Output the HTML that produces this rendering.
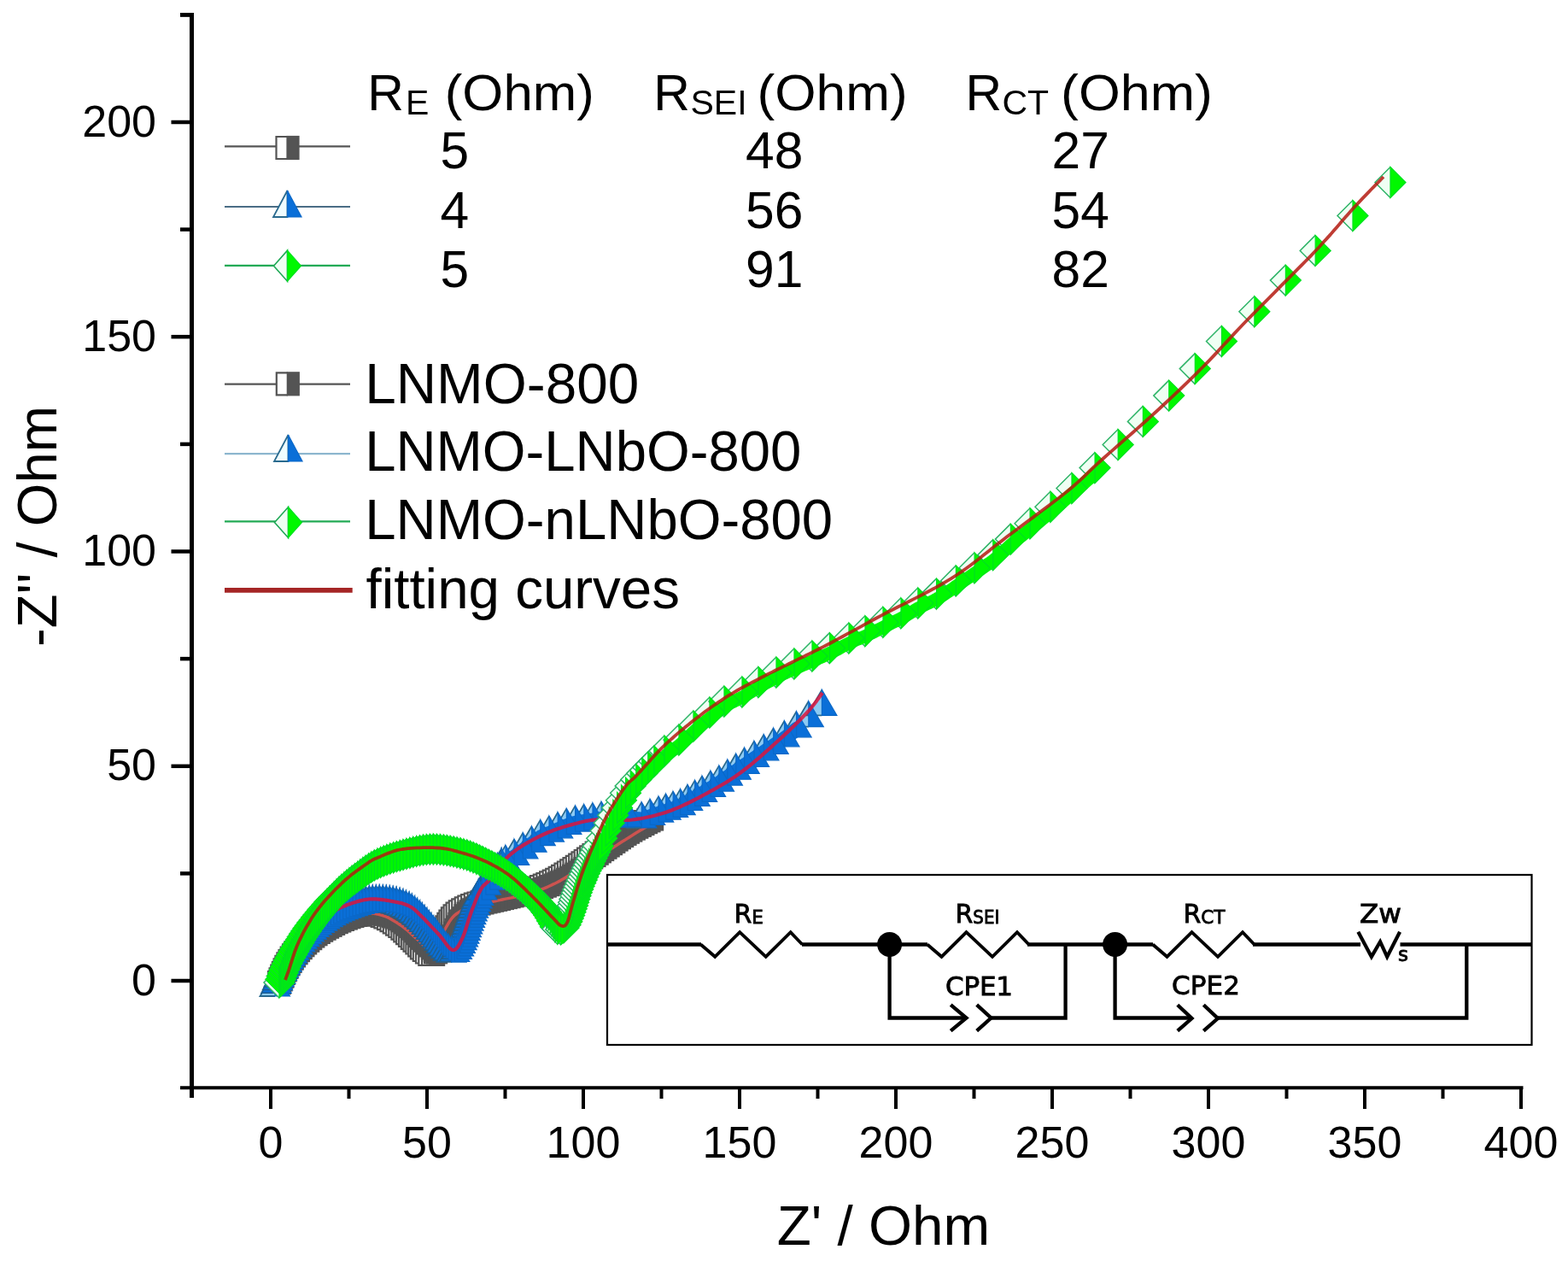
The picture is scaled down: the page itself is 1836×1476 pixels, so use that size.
<!DOCTYPE html><html><head><meta charset="utf-8"><title>Nyquist plot</title>
<style>html,body{margin:0;padding:0;background:#fff;}svg{display:block;}</style></head><body>
<svg width="1836" height="1476" viewBox="0 0 1836 1476">
<rect width="1836" height="1476" fill="#fff"/>
<defs>
<g id="sqL"><rect x="-13" y="-13" width="13" height="26" fill="#fff"/><path d="M0,-13 H-13 V13 H0" fill="none" stroke="#545454" stroke-width="2.2"/></g>
<g id="sqR"><rect x="0" y="-13" width="13" height="26" fill="#545454" stroke="#545454" stroke-width="2.2"/></g>
<g id="sq"><use href="#sqL"/><use href="#sqR"/></g>
<g id="triL"><path d="M0,-15 L0,15 L-17.5,15 Z" fill="#8ccaf4"/><path d="M0,-15 L-17.5,15 L0,15" fill="none" stroke="#2a6a8e" stroke-width="1.8"/></g>
<g id="triR"><path d="M0,-15 L17.5,15 L0,15 Z" fill="#0a6fd8" stroke="#0a68c8" stroke-width="1.2"/></g>
<g id="tri"><path d="M0,-15.5 L0,15.5 L-16.5,15.5 Z" fill="#effcff" stroke="#2a6a8e" stroke-width="1.8"/><path d="M0,-15.5 L16.5,15.5 L0,15.5 Z" fill="#0a6fd8" stroke="#0a68c8" stroke-width="1.2"/></g>
<g id="triS"><path d="M0,-15 L0,15 L-17.5,15 Z" fill="#0a6fd8" stroke="#1f5f90" stroke-width="1.5"/></g>
<g id="diaL"><path d="M0,-18 L0,18 L-18,0 Z" fill="#effff3"/><path d="M0,-18 L-18,0 L0,18" fill="none" stroke="#2fb468" stroke-width="1.5"/></g>
<g id="diaR"><path d="M0,-18 L18,0 L0,18 Z" fill="#00f800" stroke="#00e020" stroke-width="1.2"/></g>
<g id="dia"><path d="M0,-18 L0,18 L-16,0 Z" fill="#effff3" stroke="#1fa856" stroke-width="1.6"/><path d="M0,-18 L16,0 L0,18 Z" fill="#00f800" stroke="#00e020" stroke-width="1.2"/></g>
<g id="diaS"><path d="M0,-18 L0,18 L-18,0 Z" fill="#00f800" stroke="#10d838" stroke-width="1"/></g>
</defs>
<g id="data">
<g><use href="#sqL" x="327.0" y="1150.0"/><use href="#sqL" x="328.6" y="1146.4"/><use href="#sqL" x="330.3" y="1142.7"/><use href="#sqL" x="331.9" y="1139.0"/><use href="#sqL" x="333.6" y="1135.4"/><use href="#sqL" x="335.4" y="1131.9"/><use href="#sqL" x="337.4" y="1128.4"/><use href="#sqL" x="339.5" y="1125.0"/><use href="#sqL" x="341.7" y="1121.6"/><use href="#sqL" x="344.0" y="1118.4"/><use href="#sqL" x="346.5" y="1115.2"/><use href="#sqL" x="349.0" y="1112.1"/><use href="#sqL" x="351.7" y="1109.1"/><use href="#sqL" x="354.4" y="1106.2"/><use href="#sqL" x="357.2" y="1103.4"/><use href="#sqL" x="360.2" y="1100.7"/><use href="#sqL" x="363.2" y="1098.1"/><use href="#sqL" x="366.3" y="1095.5"/><use href="#sqL" x="369.5" y="1093.2"/><use href="#sqL" x="372.8" y="1090.9"/><use href="#sqL" x="376.2" y="1088.7"/><use href="#sqL" x="379.6" y="1086.7"/><use href="#sqL" x="383.1" y="1084.7"/><use href="#sqL" x="386.6" y="1082.8"/><use href="#sqL" x="390.1" y="1080.9"/><use href="#sqL" x="393.7" y="1079.1"/><use href="#sqL" x="397.3" y="1077.5"/><use href="#sqL" x="401.0" y="1075.9"/><use href="#sqL" x="404.8" y="1074.5"/><use href="#sqL" x="408.5" y="1073.2"/><use href="#sqL" x="412.4" y="1072.0"/><use href="#sqL" x="416.2" y="1070.9"/><use href="#sqL" x="420.1" y="1070.0"/><use href="#sqL" x="424.1" y="1069.4"/><use href="#sqL" x="428.0" y="1069.0"/><use href="#sqL" x="432.0" y="1069.0"/><use href="#sqL" x="436.0" y="1069.2"/><use href="#sqL" x="440.0" y="1069.8"/><use href="#sqL" x="443.9" y="1070.7"/><use href="#sqL" x="447.7" y="1071.9"/><use href="#sqL" x="451.4" y="1073.4"/><use href="#sqL" x="455.0" y="1075.2"/><use href="#sqL" x="458.5" y="1077.2"/><use href="#sqL" x="461.8" y="1079.3"/><use href="#sqL" x="465.1" y="1081.6"/><use href="#sqL" x="468.3" y="1084.0"/><use href="#sqL" x="471.4" y="1086.6"/><use href="#sqL" x="474.3" y="1089.3"/><use href="#sqL" x="477.1" y="1092.1"/><use href="#sqL" x="480.0" y="1095.0"/><use href="#sqL" x="482.8" y="1097.8"/><use href="#sqL" x="485.6" y="1100.6"/><use href="#sqL" x="488.4" y="1103.5"/><use href="#sqL" x="491.2" y="1106.4"/><use href="#sqL" x="493.9" y="1109.3"/><use href="#sqL" x="496.8" y="1112.0"/><use href="#sqL" x="500.0" y="1114.5"/><use href="#sqL" x="503.3" y="1116.8"/><use href="#sqL" x="507.1" y="1116.9"/><use href="#sqL" x="510.1" y="1114.3"/><use href="#sqL" x="512.3" y="1111.0"/><use href="#sqL" x="514.2" y="1107.5"/><use href="#sqL" x="516.0" y="1103.9"/><use href="#sqL" x="517.3" y="1100.1"/><use href="#sqL" x="518.6" y="1096.3"/><use href="#sqL" x="519.9" y="1092.6"/><use href="#sqL" x="521.5" y="1088.9"/><use href="#sqL" x="523.4" y="1085.4"/><use href="#sqL" x="525.4" y="1081.9"/><use href="#sqL" x="527.5" y="1078.5"/><use href="#sqL" x="529.9" y="1075.3"/><use href="#sqL" x="532.6" y="1072.3"/><use href="#sqL" x="535.6" y="1069.7"/><use href="#sqL" x="538.8" y="1067.4"/><use href="#sqL" x="542.2" y="1065.3"/><use href="#sqL" x="545.8" y="1063.4"/><use href="#sqL" x="549.4" y="1061.7"/><use href="#sqL" x="553.1" y="1060.1"/><use href="#sqL" x="556.8" y="1058.7"/><use href="#sqL" x="560.6" y="1057.5"/><use href="#sqL" x="564.5" y="1056.4"/><use href="#sqL" x="568.4" y="1055.4"/><use href="#sqL" x="572.3" y="1054.6"/><use href="#sqL" x="576.2" y="1053.7"/><use href="#sqL" x="580.1" y="1052.8"/><use href="#sqL" x="584.0" y="1052.0"/><use href="#sqL" x="587.9" y="1051.0"/><use href="#sqL" x="591.8" y="1050.1"/><use href="#sqL" x="595.6" y="1049.2"/><use href="#sqL" x="599.5" y="1048.3"/><use href="#sqL" x="603.4" y="1047.4"/><use href="#sqL" x="607.3" y="1046.5"/><use href="#sqL" x="611.2" y="1045.5"/><use href="#sqL" x="615.1" y="1044.5"/><use href="#sqL" x="618.9" y="1043.3"/><use href="#sqL" x="622.7" y="1042.1"/><use href="#sqL" x="626.5" y="1040.8"/><use href="#sqL" x="630.3" y="1039.5"/><use href="#sqL" x="634.0" y="1038.1"/><use href="#sqL" x="637.8" y="1036.6"/><use href="#sqL" x="641.4" y="1035.1"/><use href="#sqL" x="645.1" y="1033.4"/><use href="#sqL" x="648.7" y="1031.7"/><use href="#sqL" x="652.2" y="1029.8"/><use href="#sqL" x="655.7" y="1027.9"/><use href="#sqL" x="659.1" y="1025.8"/><use href="#sqL" x="662.5" y="1023.7"/><use href="#sqL" x="665.9" y="1021.5"/><use href="#sqL" x="669.2" y="1019.3"/><use href="#sqL" x="672.5" y="1017.1"/><use href="#sqL" x="675.8" y="1014.8"/><use href="#sqL" x="679.2" y="1012.6"/><use href="#sqL" x="682.5" y="1010.3"/><use href="#sqL" x="685.7" y="1008.0"/><use href="#sqL" x="689.0" y="1005.7"/><use href="#sqL" x="692.2" y="1003.4"/><use href="#sqL" x="695.5" y="1001.0"/><use href="#sqL" x="698.7" y="998.7"/><use href="#sqL" x="701.9" y="996.3"/><use href="#sqL" x="705.2" y="994.0"/><use href="#sqL" x="708.5" y="991.7"/><use href="#sqL" x="711.7" y="989.4"/><use href="#sqL" x="715.0" y="987.1"/><use href="#sqL" x="718.3" y="984.8"/><use href="#sqL" x="721.6" y="982.5"/><use href="#sqL" x="724.9" y="980.2"/><use href="#sqL" x="728.2" y="978.0"/><use href="#sqL" x="731.5" y="975.8"/><use href="#sqL" x="734.9" y="973.7"/><use href="#sqL" x="738.3" y="971.6"/><use href="#sqL" x="741.8" y="969.6"/><use href="#sqL" x="745.3" y="967.7"/><use href="#sqL" x="748.9" y="965.8"/><use href="#sqL" x="752.4" y="964.0"/><use href="#sqL" x="756.0" y="962.1"/><use href="#sqL" x="759.5" y="960.3"/><use href="#sqL" x="763.1" y="958.5"/><use href="#sqR" x="327.0" y="1150.0"/><use href="#sqR" x="328.6" y="1146.4"/><use href="#sqR" x="330.3" y="1142.7"/><use href="#sqR" x="331.9" y="1139.0"/><use href="#sqR" x="333.6" y="1135.4"/><use href="#sqR" x="335.4" y="1131.9"/><use href="#sqR" x="337.4" y="1128.4"/><use href="#sqR" x="339.5" y="1125.0"/><use href="#sqR" x="341.7" y="1121.6"/><use href="#sqR" x="344.0" y="1118.4"/><use href="#sqR" x="346.5" y="1115.2"/><use href="#sqR" x="349.0" y="1112.1"/><use href="#sqR" x="351.7" y="1109.1"/><use href="#sqR" x="354.4" y="1106.2"/><use href="#sqR" x="357.2" y="1103.4"/><use href="#sqR" x="360.2" y="1100.7"/><use href="#sqR" x="363.2" y="1098.1"/><use href="#sqR" x="366.3" y="1095.5"/><use href="#sqR" x="369.5" y="1093.2"/><use href="#sqR" x="372.8" y="1090.9"/><use href="#sqR" x="376.2" y="1088.7"/><use href="#sqR" x="379.6" y="1086.7"/><use href="#sqR" x="383.1" y="1084.7"/><use href="#sqR" x="386.6" y="1082.8"/><use href="#sqR" x="390.1" y="1080.9"/><use href="#sqR" x="393.7" y="1079.1"/><use href="#sqR" x="397.3" y="1077.5"/><use href="#sqR" x="401.0" y="1075.9"/><use href="#sqR" x="404.8" y="1074.5"/><use href="#sqR" x="408.5" y="1073.2"/><use href="#sqR" x="412.4" y="1072.0"/><use href="#sqR" x="416.2" y="1070.9"/><use href="#sqR" x="420.1" y="1070.0"/><use href="#sqR" x="424.1" y="1069.4"/><use href="#sqR" x="428.0" y="1069.0"/><use href="#sqR" x="432.0" y="1069.0"/><use href="#sqR" x="436.0" y="1069.2"/><use href="#sqR" x="440.0" y="1069.8"/><use href="#sqR" x="443.9" y="1070.7"/><use href="#sqR" x="447.7" y="1071.9"/><use href="#sqR" x="451.4" y="1073.4"/><use href="#sqR" x="455.0" y="1075.2"/><use href="#sqR" x="458.5" y="1077.2"/><use href="#sqR" x="461.8" y="1079.3"/><use href="#sqR" x="465.1" y="1081.6"/><use href="#sqR" x="468.3" y="1084.0"/><use href="#sqR" x="471.4" y="1086.6"/><use href="#sqR" x="474.3" y="1089.3"/><use href="#sqR" x="477.1" y="1092.1"/><use href="#sqR" x="480.0" y="1095.0"/><use href="#sqR" x="482.8" y="1097.8"/><use href="#sqR" x="485.6" y="1100.6"/><use href="#sqR" x="488.4" y="1103.5"/><use href="#sqR" x="491.2" y="1106.4"/><use href="#sqR" x="493.9" y="1109.3"/><use href="#sqR" x="496.8" y="1112.0"/><use href="#sqR" x="500.0" y="1114.5"/><use href="#sqR" x="503.3" y="1116.8"/><use href="#sqR" x="507.1" y="1116.9"/><use href="#sqR" x="510.1" y="1114.3"/><use href="#sqR" x="512.3" y="1111.0"/><use href="#sqR" x="514.2" y="1107.5"/><use href="#sqR" x="516.0" y="1103.9"/><use href="#sqR" x="517.3" y="1100.1"/><use href="#sqR" x="518.6" y="1096.3"/><use href="#sqR" x="519.9" y="1092.6"/><use href="#sqR" x="521.5" y="1088.9"/><use href="#sqR" x="523.4" y="1085.4"/><use href="#sqR" x="525.4" y="1081.9"/><use href="#sqR" x="527.5" y="1078.5"/><use href="#sqR" x="529.9" y="1075.3"/><use href="#sqR" x="532.6" y="1072.3"/><use href="#sqR" x="535.6" y="1069.7"/><use href="#sqR" x="538.8" y="1067.4"/><use href="#sqR" x="542.2" y="1065.3"/><use href="#sqR" x="545.8" y="1063.4"/><use href="#sqR" x="549.4" y="1061.7"/><use href="#sqR" x="553.1" y="1060.1"/><use href="#sqR" x="556.8" y="1058.7"/><use href="#sqR" x="560.6" y="1057.5"/><use href="#sqR" x="564.5" y="1056.4"/><use href="#sqR" x="568.4" y="1055.4"/><use href="#sqR" x="572.3" y="1054.6"/><use href="#sqR" x="576.2" y="1053.7"/><use href="#sqR" x="580.1" y="1052.8"/><use href="#sqR" x="584.0" y="1052.0"/><use href="#sqR" x="587.9" y="1051.0"/><use href="#sqR" x="591.8" y="1050.1"/><use href="#sqR" x="595.6" y="1049.2"/><use href="#sqR" x="599.5" y="1048.3"/><use href="#sqR" x="603.4" y="1047.4"/><use href="#sqR" x="607.3" y="1046.5"/><use href="#sqR" x="611.2" y="1045.5"/><use href="#sqR" x="615.1" y="1044.5"/><use href="#sqR" x="618.9" y="1043.3"/><use href="#sqR" x="622.7" y="1042.1"/><use href="#sqR" x="626.5" y="1040.8"/><use href="#sqR" x="630.3" y="1039.5"/><use href="#sqR" x="634.0" y="1038.1"/><use href="#sqR" x="637.8" y="1036.6"/><use href="#sqR" x="641.4" y="1035.1"/><use href="#sqR" x="645.1" y="1033.4"/><use href="#sqR" x="648.7" y="1031.7"/><use href="#sqR" x="652.2" y="1029.8"/><use href="#sqR" x="655.7" y="1027.9"/><use href="#sqR" x="659.1" y="1025.8"/><use href="#sqR" x="662.5" y="1023.7"/><use href="#sqR" x="665.9" y="1021.5"/><use href="#sqR" x="669.2" y="1019.3"/><use href="#sqR" x="672.5" y="1017.1"/><use href="#sqR" x="675.8" y="1014.8"/><use href="#sqR" x="679.2" y="1012.6"/><use href="#sqR" x="682.5" y="1010.3"/><use href="#sqR" x="685.7" y="1008.0"/><use href="#sqR" x="689.0" y="1005.7"/><use href="#sqR" x="692.2" y="1003.4"/><use href="#sqR" x="695.5" y="1001.0"/><use href="#sqR" x="698.7" y="998.7"/><use href="#sqR" x="701.9" y="996.3"/><use href="#sqR" x="705.2" y="994.0"/><use href="#sqR" x="708.5" y="991.7"/><use href="#sqR" x="711.7" y="989.4"/><use href="#sqR" x="715.0" y="987.1"/><use href="#sqR" x="718.3" y="984.8"/><use href="#sqR" x="721.6" y="982.5"/><use href="#sqR" x="724.9" y="980.2"/><use href="#sqR" x="728.2" y="978.0"/><use href="#sqR" x="731.5" y="975.8"/><use href="#sqR" x="734.9" y="973.7"/><use href="#sqR" x="738.3" y="971.6"/><use href="#sqR" x="741.8" y="969.6"/><use href="#sqR" x="745.3" y="967.7"/><use href="#sqR" x="748.9" y="965.8"/><use href="#sqR" x="752.4" y="964.0"/><use href="#sqR" x="756.0" y="962.1"/><use href="#sqR" x="759.5" y="960.3"/><use href="#sqR" x="763.1" y="958.5"/></g>
<path d="M334.0,1142.0 L334.4,1140.8 L334.8,1139.3 L335.3,1137.6 L335.9,1135.6 L336.5,1133.4 L337.1,1131.2 L337.8,1128.9 L338.6,1126.5 L339.4,1124.2 L340.2,1122.0 L341.1,1119.9 L342.0,1118.0 L342.9,1116.2 L343.9,1114.5 L345.0,1112.8 L346.1,1111.1 L347.2,1109.5 L348.4,1107.9 L349.6,1106.3 L350.8,1104.8 L352.1,1103.3 L353.4,1101.8 L354.7,1100.4 L356.0,1099.0 L357.4,1097.6 L358.7,1096.3 L360.1,1095.1 L361.6,1093.8 L363.1,1092.6 L364.6,1091.4 L366.1,1090.3 L367.6,1089.2 L369.2,1088.1 L370.8,1087.0 L372.4,1086.0 L374.0,1085.0 L375.7,1084.0 L377.3,1083.1 L379.1,1082.1 L380.9,1081.2 L382.6,1080.3 L384.4,1079.5 L386.2,1078.7 L388.0,1077.9 L389.8,1077.1 L391.6,1076.4 L393.3,1075.7 L395.0,1075.0 L396.7,1074.3 L398.3,1073.7 L399.9,1073.1 L401.5,1072.5 L403.1,1071.9 L404.7,1071.4 L406.3,1070.9 L407.8,1070.4 L409.4,1070.0 L410.9,1069.6 L412.5,1069.3 L414.0,1069.0 L415.5,1068.7 L417.0,1068.5 L418.5,1068.4 L420.0,1068.2 L421.5,1068.1 L422.9,1068.1 L424.4,1068.1 L425.9,1068.1 L427.4,1068.1 L428.9,1068.2 L430.4,1068.3 L432.0,1068.5 L433.6,1068.7 L435.2,1068.9 L436.9,1069.1 L438.5,1069.4 L440.2,1069.6 L441.9,1070.0 L443.6,1070.3 L445.3,1070.8 L447.0,1071.2 L448.6,1071.8 L450.3,1072.3 L452.0,1073.0 L453.7,1073.7 L455.4,1074.5 L457.1,1075.4 L458.8,1076.4 L460.5,1077.4 L462.2,1078.4 L464.0,1079.5 L465.6,1080.6 L467.3,1081.7 L468.9,1082.8 L470.5,1083.9 L472.0,1085.0 L473.5,1086.1 L474.9,1087.3 L476.4,1088.4 L477.8,1089.6 L479.2,1090.8 L480.5,1092.1 L481.8,1093.3 L483.1,1094.5 L484.4,1095.7 L485.6,1096.8 L486.8,1097.9 L488.0,1099.0 L489.2,1100.0 L490.3,1101.1 L491.4,1102.1 L492.5,1103.2 L493.5,1104.2 L494.6,1105.2 L495.6,1106.1 L496.5,1107.0 L497.4,1107.9 L498.3,1108.7 L499.2,1109.4 L500.0,1110.0 L500.8,1110.6 L501.5,1111.1 L502.1,1111.6 L502.7,1112.0 L503.3,1112.4 L503.8,1112.8 L504.3,1113.0 L504.9,1113.2 L505.4,1113.3 L505.9,1113.3 L506.4,1113.2 L507.0,1113.0 L507.6,1112.7 L508.2,1112.3 L508.7,1111.8 L509.3,1111.2 L509.9,1110.6 L510.4,1109.8 L511.0,1109.0 L511.6,1108.1 L512.2,1107.2 L512.8,1106.2 L513.4,1105.1 L514.0,1104.0 L514.6,1102.8 L515.2,1101.5 L515.8,1100.1 L516.4,1098.6 L517.1,1097.0 L517.7,1095.4 L518.3,1093.8 L519.0,1092.2 L519.7,1090.6 L520.4,1089.0 L521.2,1087.5 L522.0,1086.0 L522.8,1084.6 L523.7,1083.1 L524.5,1081.7 L525.3,1080.3 L526.2,1078.9 L527.1,1077.5 L528.1,1076.1 L529.1,1074.8 L530.2,1073.5 L531.4,1072.3 L532.6,1071.1 L534.0,1070.0 L535.5,1068.9 L537.0,1068.0 L538.6,1067.0 L540.2,1066.1 L542.0,1065.3 L543.8,1064.4 L545.6,1063.7 L547.6,1062.9 L549.6,1062.1 L551.6,1061.4 L553.8,1060.7 L556.0,1060.0 L558.3,1059.3 L560.8,1058.7 L563.3,1058.0 L565.9,1057.4 L568.6,1056.9 L571.4,1056.3 L574.2,1055.8 L577.0,1055.2 L579.8,1054.7 L582.6,1054.1 L585.3,1053.6 L588.0,1053.0 L590.7,1052.4 L593.4,1051.9 L596.0,1051.4 L598.7,1050.9 L601.4,1050.3 L604.1,1049.8 L606.8,1049.3 L609.5,1048.7 L612.1,1048.1 L614.8,1047.5 L617.4,1046.8 L620.0,1046.0 L622.6,1045.2 L625.1,1044.4 L627.6,1043.5 L630.1,1042.6 L632.6,1041.7 L635.1,1040.7 L637.6,1039.7 L640.1,1038.6 L642.5,1037.5 L645.0,1036.4 L647.5,1035.2 L650.0,1034.0 L652.5,1032.7 L655.0,1031.4 L657.5,1029.9 L660.0,1028.5 L662.5,1027.0 L665.0,1025.4 L667.5,1023.9 L670.0,1022.3 L672.5,1020.7 L675.0,1019.1 L677.5,1017.6 L680.0,1016.0 L682.5,1014.5 L685.0,1012.9 L687.5,1011.3 L690.0,1009.7 L692.5,1008.2 L695.0,1006.6 L697.5,1005.0 L700.0,1003.4 L702.5,1001.8 L705.0,1000.2 L707.5,998.6 L710.0,997.0 L712.5,995.4 L715.1,993.8 L717.6,992.2 L720.2,990.5 L722.8,988.9 L725.3,987.2 L727.9,985.6 L730.4,984.0 L732.9,982.5 L735.3,980.9 L737.7,979.4 L740.0,978.0 L742.3,976.6 L744.7,975.1 L747.2,973.6 L749.6,972.1 L752.0,970.7 L754.4,969.3 L756.6,968.0 L758.7,966.7 L760.6,965.6 L762.3,964.6 L763.8,963.7 L765.0,963.0" fill="none" stroke="#d9534f" stroke-width="3.5" stroke-linejoin="round" opacity="0.9"/>
<g><use href="#triL" x="322.0" y="1151.0"/><use href="#triS" x="323.6" y="1147.3"/><use href="#triS" x="325.1" y="1143.6"/><use href="#triS" x="326.7" y="1140.0"/><use href="#triS" x="328.4" y="1136.3"/><use href="#triS" x="330.1" y="1132.7"/><use href="#triS" x="331.9" y="1129.2"/><use href="#triS" x="333.8" y="1125.6"/><use href="#triS" x="335.7" y="1122.1"/><use href="#triS" x="337.6" y="1118.6"/><use href="#triS" x="339.7" y="1115.2"/><use href="#triS" x="341.8" y="1111.8"/><use href="#triS" x="344.0" y="1108.4"/><use href="#triS" x="346.3" y="1105.1"/><use href="#triS" x="348.6" y="1101.9"/><use href="#triS" x="351.1" y="1098.7"/><use href="#triS" x="353.6" y="1095.6"/><use href="#triS" x="356.2" y="1092.6"/><use href="#triS" x="359.0" y="1089.7"/><use href="#triS" x="361.8" y="1086.9"/><use href="#triS" x="364.7" y="1084.2"/><use href="#triS" x="367.7" y="1081.5"/><use href="#triS" x="370.8" y="1079.0"/><use href="#triS" x="374.0" y="1076.5"/><use href="#triS" x="377.2" y="1074.1"/><use href="#triS" x="380.5" y="1071.9"/><use href="#triS" x="383.8" y="1069.7"/><use href="#triS" x="387.3" y="1067.6"/><use href="#triS" x="390.7" y="1065.7"/><use href="#triS" x="394.3" y="1063.8"/><use href="#triS" x="397.9" y="1062.2"/><use href="#triS" x="401.6" y="1060.6"/><use href="#triS" x="405.4" y="1059.2"/><use href="#triS" x="409.2" y="1057.9"/><use href="#triS" x="413.0" y="1056.7"/><use href="#triS" x="416.8" y="1055.5"/><use href="#triS" x="420.6" y="1054.3"/><use href="#triS" x="424.5" y="1053.3"/><use href="#triS" x="428.4" y="1052.5"/><use href="#triS" x="432.4" y="1052.0"/><use href="#triS" x="436.3" y="1051.6"/><use href="#triS" x="440.3" y="1051.4"/><use href="#triS" x="444.3" y="1051.3"/><use href="#triS" x="448.3" y="1051.4"/><use href="#triS" x="452.3" y="1051.7"/><use href="#triS" x="456.3" y="1052.2"/><use href="#triS" x="460.2" y="1052.9"/><use href="#triS" x="464.1" y="1053.8"/><use href="#triS" x="468.0" y="1054.9"/><use href="#triS" x="471.8" y="1056.2"/><use href="#triS" x="475.4" y="1057.7"/><use href="#triS" x="479.0" y="1059.6"/><use href="#triS" x="482.3" y="1061.8"/><use href="#triS" x="485.5" y="1064.2"/><use href="#triS" x="488.5" y="1066.8"/><use href="#triS" x="491.5" y="1069.5"/><use href="#triS" x="494.3" y="1072.3"/><use href="#triS" x="497.1" y="1075.2"/><use href="#triS" x="499.8" y="1078.2"/><use href="#triS" x="502.4" y="1081.2"/><use href="#triS" x="504.9" y="1084.3"/><use href="#triS" x="507.5" y="1087.4"/><use href="#triS" x="510.0" y="1090.5"/><use href="#triS" x="512.4" y="1093.7"/><use href="#triS" x="514.7" y="1097.0"/><use href="#triS" x="517.0" y="1100.2"/><use href="#triS" x="519.5" y="1103.4"/><use href="#triS" x="522.3" y="1106.3"/><use href="#triS" x="525.2" y="1109.0"/><use href="#triS" x="528.6" y="1111.1"/><use href="#triS" x="532.3" y="1110.3"/><use href="#triS" x="535.0" y="1107.3"/><use href="#triS" x="537.1" y="1103.9"/><use href="#triS" x="538.9" y="1100.3"/><use href="#triS" x="540.6" y="1096.7"/><use href="#triS" x="542.1" y="1093.0"/><use href="#triS" x="543.4" y="1089.2"/><use href="#triS" x="544.7" y="1085.4"/><use href="#triS" x="546.0" y="1081.7"/><use href="#triS" x="547.3" y="1077.9"/><use href="#triS" x="548.6" y="1074.1"/><use href="#triS" x="550.0" y="1070.3"/><use href="#triS" x="551.3" y="1066.6"/><use href="#triS" x="552.7" y="1062.8"/><use href="#triS" x="554.1" y="1059.1"/><use href="#triS" x="555.5" y="1055.3"/><use href="#triS" x="557.0" y="1051.6"/><use href="#triS" x="558.6" y="1047.9"/><use href="#triS" x="560.3" y="1044.4"/><use href="#triS" x="564.3" y="1038.0"/><use href="#triS" x="568.9" y="1032.1"/><use href="#triS" x="573.6" y="1026.2"/><use href="#triS" x="578.0" y="1020.2"/><use href="#triS" x="582.4" y="1014.1"/><use href="#triS" x="587.1" y="1008.2"/><use href="#triL" x="592.0" y="1004.4"/><use href="#triL" x="602.2" y="997.3"/><use href="#triL" x="612.4" y="989.8"/><use href="#triL" x="622.6" y="982.2"/><use href="#triL" x="632.8" y="974.6"/><use href="#triL" x="643.0" y="970.1"/><use href="#triL" x="653.2" y="965.8"/><use href="#triL" x="663.4" y="961.4"/><use href="#triL" x="673.6" y="958.1"/><use href="#triL" x="683.8" y="956.5"/><use href="#triL" x="694.0" y="954.9"/><use href="#triL" x="704.2" y="953.4"/><use href="#triL" x="714.4" y="953.1"/><use href="#triL" x="724.6" y="952.9"/><use href="#triL" x="734.8" y="952.6"/><use href="#triL" x="751.3" y="953.9"/><use href="#triL" x="761.2" y="950.4"/><use href="#triL" x="771.2" y="947.1"/><use href="#triL" x="779.7" y="944.2"/><use href="#triL" x="788.2" y="941.4"/><use href="#triL" x="796.7" y="938.6"/><use href="#triL" x="805.2" y="933.5"/><use href="#triL" x="813.7" y="928.4"/><use href="#triL" x="822.2" y="923.3"/><use href="#triL" x="832.1" y="917.3"/><use href="#triL" x="842.0" y="911.1"/><use href="#triL" x="851.9" y="904.1"/><use href="#triL" x="861.8" y="897.2"/><use href="#triL" x="871.7" y="890.3"/><use href="#triL" x="883.1" y="882.4"/><use href="#triL" x="894.4" y="874.8"/><use href="#triL" x="905.7" y="867.3"/><use href="#triL" x="918.5" y="858.8"/><use href="#triL" x="932.6" y="847.8"/><use href="#triL" x="946.8" y="835.7"/><use href="#triL" x="962.4" y="822.4"/><path d="M593.0,1009.4 L593.8,1008.8 L594.8,1008.1 L596.1,1007.3 L597.5,1006.3 L598.9,1005.3 L600.4,1004.3 L601.9,1003.3 L603.2,1002.3 L604.5,1001.4 L605.8,1000.5 L607.0,999.5 L608.3,998.6 L609.6,997.6 L610.9,996.7 L612.1,995.7 L613.4,994.8 L614.7,993.8 L616.0,992.9 L617.2,991.9 L618.5,991.0 L619.8,990.0 L621.1,989.1 L622.3,988.1 L623.6,987.2 L624.9,986.2 L626.2,985.2 L627.4,984.2 L628.7,983.2 L630.0,982.2 L631.3,981.3 L632.5,980.4 L633.8,979.6 L635.1,978.9 L636.4,978.3 L637.6,977.7 L638.9,977.2 L640.2,976.7 L641.5,976.2 L642.7,975.7 L644.0,975.1 L645.3,974.6 L646.6,974.0 L647.8,973.5 L649.1,972.9 L650.4,972.4 L651.7,971.8 L652.9,971.3 L654.2,970.8 L655.5,970.2 L656.8,969.6 L658.0,969.1 L659.3,968.5 L660.6,967.9 L661.9,967.4 L663.1,966.9 L664.4,966.4 L665.7,965.9 L667.0,965.4 L668.2,965.0 L669.5,964.5 L670.8,964.1 L672.1,963.7 L673.3,963.4 L674.6,963.1 L675.9,962.8 L677.2,962.5 L678.4,962.3 L679.7,962.2 L681.0,962.0 L682.3,961.8 L683.5,961.7 L684.8,961.5 L686.1,961.3 L687.4,961.1 L688.6,960.9 L689.9,960.7 L691.2,960.5 L692.5,960.3 L693.7,960.1 L695.0,959.9 L696.3,959.7 L697.6,959.5 L698.8,959.3 L700.1,959.1 L701.4,958.9 L702.7,958.7 L703.9,958.5 L705.2,958.4 L706.5,958.3 L707.8,958.2 L709.0,958.2 L710.3,958.2 L711.6,958.2 L712.9,958.2 L714.1,958.2 L715.4,958.1 L716.7,958.1 L718.0,958.1 L719.2,958.0 L720.5,958.0 L721.8,958.0 L723.1,958.0 L724.3,957.9 L725.6,957.9 L726.8,957.8 L728.0,957.8 L729.1,957.7 L730.3,957.7 L731.5,957.6 L732.8,957.6 L734.2,957.6 L735.8,957.6 L737.6,957.7 L739.6,957.9 L741.8,958.2 L744.1,958.4 L746.3,958.7 L748.5,958.8 L750.5,958.9 L752.3,958.9 L753.9,958.6 L755.3,958.3 L756.5,957.9 L757.7,957.4 L758.8,956.9 L759.9,956.3 L761.1,955.8 L762.2,955.4 L763.5,954.9 L764.8,954.5 L766.0,954.1 L767.3,953.7 L768.5,953.3 L769.8,952.8 L771.0,952.4 L772.2,952.1 L773.3,951.7 L774.4,951.3 L775.5,951.0 L776.5,950.6 L777.5,950.3 L778.6,949.9 L779.6,949.6 L780.7,949.2 L781.7,948.9 L782.8,948.5 L783.8,948.2 L784.9,947.8 L786.0,947.5 L787.0,947.1 L788.1,946.7 L789.2,946.4 L790.2,946.1 L791.3,945.7 L792.3,945.4 L793.4,945.1 L794.5,944.8 L795.5,944.4 L796.6,944.0 L797.7,943.6 L798.7,943.0 L799.8,942.4 L800.8,941.8 L801.9,941.2 L803.0,940.5 L804.0,939.8 L805.1,939.1 L806.2,938.5 L807.2,937.8 L808.3,937.2 L809.3,936.5 L810.4,935.9 L811.5,935.3 L812.5,934.6 L813.6,934.0 L814.7,933.4 L815.7,932.7 L816.7,932.1 L817.8,931.5 L818.8,930.9 L819.9,930.2 L820.9,929.6 L822.0,928.9 L823.2,928.3 L824.3,927.6 L825.5,926.8 L826.8,926.1 L828.0,925.4 L829.3,924.6 L830.6,923.8 L831.8,923.1 L833.1,922.3 L834.3,921.6 L835.5,920.8 L836.8,920.0 L838.0,919.3 L839.3,918.5 L840.5,917.7 L841.7,916.9 L843.0,916.1 L844.2,915.2 L845.5,914.4 L846.7,913.5 L847.9,912.7 L849.2,911.8 L850.4,910.9 L851.7,910.0 L852.9,909.1 L854.1,908.3 L855.4,907.4 L856.6,906.5 L857.9,905.7 L859.1,904.8 L860.3,903.9 L861.6,903.1 L862.8,902.2 L864.0,901.3 L865.3,900.5 L866.5,899.6 L867.7,898.8 L868.9,897.9 L870.1,897.1 L871.4,896.2 L872.7,895.3 L874.1,894.3 L875.5,893.3 L876.9,892.4 L878.3,891.4 L879.7,890.3 L881.2,889.3 L882.6,888.4 L884.1,887.4 L885.5,886.4 L886.9,885.5 L888.3,884.5 L889.7,883.6 L891.1,882.6 L892.6,881.7 L894.0,880.8 L895.4,879.8 L896.8,878.9 L898.2,878.0 L899.6,877.0 L901.0,876.1 L902.4,875.2 L903.8,874.2 L905.2,873.3 L906.7,872.3 L908.2,871.3 L909.8,870.3 L911.3,869.3 L912.9,868.2 L914.5,867.2 L916.2,866.1 L917.8,865.0 L919.5,863.8 L921.3,862.4 L923.2,860.9 L925.3,859.3 L927.3,857.7 L929.3,856.2 L931.1,854.8 L932.5,853.6 L933.6,852.8" fill="none" stroke="#0a6fd8" stroke-width="17.0" stroke-linejoin="round" stroke-linecap="round"/><use href="#triR" x="322.0" y="1151.0"/><use href="#triR" x="323.6" y="1147.3"/><use href="#triR" x="325.1" y="1143.6"/><use href="#triR" x="326.7" y="1140.0"/><use href="#triR" x="328.4" y="1136.3"/><use href="#triR" x="330.1" y="1132.7"/><use href="#triR" x="331.9" y="1129.2"/><use href="#triR" x="333.8" y="1125.6"/><use href="#triR" x="335.7" y="1122.1"/><use href="#triR" x="337.6" y="1118.6"/><use href="#triR" x="339.7" y="1115.2"/><use href="#triR" x="341.8" y="1111.8"/><use href="#triR" x="344.0" y="1108.4"/><use href="#triR" x="346.3" y="1105.1"/><use href="#triR" x="348.6" y="1101.9"/><use href="#triR" x="351.1" y="1098.7"/><use href="#triR" x="353.6" y="1095.6"/><use href="#triR" x="356.2" y="1092.6"/><use href="#triR" x="359.0" y="1089.7"/><use href="#triR" x="361.8" y="1086.9"/><use href="#triR" x="364.7" y="1084.2"/><use href="#triR" x="367.7" y="1081.5"/><use href="#triR" x="370.8" y="1079.0"/><use href="#triR" x="374.0" y="1076.5"/><use href="#triR" x="377.2" y="1074.1"/><use href="#triR" x="380.5" y="1071.9"/><use href="#triR" x="383.8" y="1069.7"/><use href="#triR" x="387.3" y="1067.6"/><use href="#triR" x="390.7" y="1065.7"/><use href="#triR" x="394.3" y="1063.8"/><use href="#triR" x="397.9" y="1062.2"/><use href="#triR" x="401.6" y="1060.6"/><use href="#triR" x="405.4" y="1059.2"/><use href="#triR" x="409.2" y="1057.9"/><use href="#triR" x="413.0" y="1056.7"/><use href="#triR" x="416.8" y="1055.5"/><use href="#triR" x="420.6" y="1054.3"/><use href="#triR" x="424.5" y="1053.3"/><use href="#triR" x="428.4" y="1052.5"/><use href="#triR" x="432.4" y="1052.0"/><use href="#triR" x="436.3" y="1051.6"/><use href="#triR" x="440.3" y="1051.4"/><use href="#triR" x="444.3" y="1051.3"/><use href="#triR" x="448.3" y="1051.4"/><use href="#triR" x="452.3" y="1051.7"/><use href="#triR" x="456.3" y="1052.2"/><use href="#triR" x="460.2" y="1052.9"/><use href="#triR" x="464.1" y="1053.8"/><use href="#triR" x="468.0" y="1054.9"/><use href="#triR" x="471.8" y="1056.2"/><use href="#triR" x="475.4" y="1057.7"/><use href="#triR" x="479.0" y="1059.6"/><use href="#triR" x="482.3" y="1061.8"/><use href="#triR" x="485.5" y="1064.2"/><use href="#triR" x="488.5" y="1066.8"/><use href="#triR" x="491.5" y="1069.5"/><use href="#triR" x="494.3" y="1072.3"/><use href="#triR" x="497.1" y="1075.2"/><use href="#triR" x="499.8" y="1078.2"/><use href="#triR" x="502.4" y="1081.2"/><use href="#triR" x="504.9" y="1084.3"/><use href="#triR" x="507.5" y="1087.4"/><use href="#triR" x="510.0" y="1090.5"/><use href="#triR" x="512.4" y="1093.7"/><use href="#triR" x="514.7" y="1097.0"/><use href="#triR" x="517.0" y="1100.2"/><use href="#triR" x="519.5" y="1103.4"/><use href="#triR" x="522.3" y="1106.3"/><use href="#triR" x="525.2" y="1109.0"/><use href="#triR" x="528.6" y="1111.1"/><use href="#triR" x="532.3" y="1110.3"/><use href="#triR" x="535.0" y="1107.3"/><use href="#triR" x="537.1" y="1103.9"/><use href="#triR" x="538.9" y="1100.3"/><use href="#triR" x="540.6" y="1096.7"/><use href="#triR" x="542.1" y="1093.0"/><use href="#triR" x="543.4" y="1089.2"/><use href="#triR" x="544.7" y="1085.4"/><use href="#triR" x="546.0" y="1081.7"/><use href="#triR" x="547.3" y="1077.9"/><use href="#triR" x="548.6" y="1074.1"/><use href="#triR" x="550.0" y="1070.3"/><use href="#triR" x="551.3" y="1066.6"/><use href="#triR" x="552.7" y="1062.8"/><use href="#triR" x="554.1" y="1059.1"/><use href="#triR" x="555.5" y="1055.3"/><use href="#triR" x="557.0" y="1051.6"/><use href="#triR" x="558.6" y="1047.9"/><use href="#triR" x="560.3" y="1044.4"/><use href="#triR" x="564.3" y="1038.0"/><use href="#triR" x="568.9" y="1032.1"/><use href="#triR" x="573.6" y="1026.2"/><use href="#triR" x="578.0" y="1020.2"/><use href="#triR" x="582.4" y="1014.1"/><use href="#triR" x="587.1" y="1008.2"/><use href="#triR" x="592.0" y="1004.4"/><use href="#triR" x="602.2" y="997.3"/><use href="#triR" x="612.4" y="989.8"/><use href="#triR" x="622.6" y="982.2"/><use href="#triR" x="632.8" y="974.6"/><use href="#triR" x="643.0" y="970.1"/><use href="#triR" x="653.2" y="965.8"/><use href="#triR" x="663.4" y="961.4"/><use href="#triR" x="673.6" y="958.1"/><use href="#triR" x="683.8" y="956.5"/><use href="#triR" x="694.0" y="954.9"/><use href="#triR" x="704.2" y="953.4"/><use href="#triR" x="714.4" y="953.1"/><use href="#triR" x="724.6" y="952.9"/><use href="#triR" x="734.8" y="952.6"/><use href="#triR" x="751.3" y="953.9"/><use href="#triR" x="761.2" y="950.4"/><use href="#triR" x="771.2" y="947.1"/><use href="#triR" x="779.7" y="944.2"/><use href="#triR" x="788.2" y="941.4"/><use href="#triR" x="796.7" y="938.6"/><use href="#triR" x="805.2" y="933.5"/><use href="#triR" x="813.7" y="928.4"/><use href="#triR" x="822.2" y="923.3"/><use href="#triR" x="832.1" y="917.3"/><use href="#triR" x="842.0" y="911.1"/><use href="#triR" x="851.9" y="904.1"/><use href="#triR" x="861.8" y="897.2"/><use href="#triR" x="871.7" y="890.3"/><use href="#triR" x="883.1" y="882.4"/><use href="#triR" x="894.4" y="874.8"/><use href="#triR" x="905.7" y="867.3"/><use href="#triR" x="918.5" y="858.8"/><use href="#triR" x="932.6" y="847.8"/><use href="#triR" x="946.8" y="835.7"/><use href="#triR" x="962.4" y="822.4"/></g>
<path d="M331.0,1145.0 L331.3,1144.1 L331.7,1143.1 L332.1,1141.8 L332.6,1140.4 L333.2,1138.9 L333.8,1137.3 L334.4,1135.6 L335.0,1133.9 L335.7,1132.1 L336.5,1130.4 L337.2,1128.7 L338.0,1127.0 L338.8,1125.3 L339.7,1123.7 L340.6,1121.9 L341.5,1120.1 L342.4,1118.4 L343.4,1116.6 L344.5,1114.8 L345.5,1113.0 L346.6,1111.2 L347.7,1109.4 L348.8,1107.7 L350.0,1106.0 L351.2,1104.3 L352.4,1102.7 L353.7,1101.0 L355.0,1099.4 L356.3,1097.7 L357.6,1096.1 L359.0,1094.5 L360.4,1093.0 L361.8,1091.4 L363.2,1089.9 L364.6,1088.4 L366.0,1087.0 L367.4,1085.6 L368.9,1084.2 L370.4,1082.9 L371.9,1081.6 L373.4,1080.3 L374.9,1079.0 L376.4,1077.8 L377.9,1076.6 L379.5,1075.4 L381.0,1074.2 L382.5,1073.1 L384.0,1072.0 L385.5,1070.9 L386.9,1069.9 L388.2,1068.9 L389.6,1067.9 L390.9,1067.0 L392.2,1066.1 L393.6,1065.2 L395.1,1064.3 L396.7,1063.5 L398.3,1062.6 L400.1,1061.8 L402.0,1061.0 L404.1,1060.2 L406.3,1059.3 L408.7,1058.4 L411.1,1057.6 L413.6,1056.7 L416.2,1055.9 L418.9,1055.1 L421.6,1054.4 L424.2,1053.8 L426.9,1053.2 L429.5,1052.8 L432.0,1052.5 L434.5,1052.3 L437.1,1052.3 L439.8,1052.4 L442.4,1052.6 L445.1,1052.8 L447.8,1053.1 L450.4,1053.5 L452.9,1053.9 L455.3,1054.3 L457.7,1054.7 L459.9,1055.1 L462.0,1055.5 L463.9,1055.9 L465.8,1056.2 L467.5,1056.6 L469.1,1056.9 L470.6,1057.3 L472.1,1057.8 L473.5,1058.2 L474.8,1058.7 L476.1,1059.2 L477.4,1059.7 L478.7,1060.3 L480.0,1061.0 L481.2,1061.7 L482.4,1062.4 L483.4,1063.1 L484.4,1063.9 L485.4,1064.6 L486.3,1065.5 L487.3,1066.4 L488.3,1067.3 L489.3,1068.3 L490.4,1069.5 L491.7,1070.7 L493.0,1072.0 L494.5,1073.5 L496.1,1075.1 L497.8,1076.8 L499.6,1078.7 L501.4,1080.6 L503.3,1082.6 L505.2,1084.6 L507.1,1086.6 L508.9,1088.5 L510.7,1090.4 L512.4,1092.3 L514.0,1094.0 L515.5,1095.7 L517.0,1097.6 L518.5,1099.5 L519.9,1101.4 L521.3,1103.4 L522.6,1105.2 L523.9,1106.9 L525.2,1108.4 L526.5,1109.8 L527.7,1110.8 L528.9,1111.6 L530.0,1112.0 L531.1,1112.1 L532.1,1111.8 L533.1,1111.4 L534.0,1110.7 L534.9,1109.7 L535.8,1108.6 L536.7,1107.3 L537.5,1105.9 L538.4,1104.3 L539.2,1102.6 L540.1,1100.8 L541.0,1099.0 L541.9,1097.0 L542.8,1094.7 L543.8,1092.2 L544.7,1089.5 L545.6,1086.7 L546.5,1083.8 L547.4,1080.9 L548.3,1077.9 L549.2,1075.0 L550.2,1072.2 L551.1,1069.5 L552.0,1067.0 L552.9,1064.6 L553.8,1062.2 L554.8,1059.8 L555.7,1057.4 L556.6,1055.0 L557.5,1052.8 L558.4,1050.5 L559.3,1048.4 L560.2,1046.4 L561.2,1044.5 L562.1,1042.7 L563.0,1041.0 L563.9,1039.6 L564.7,1038.4 L565.4,1037.4 L566.1,1036.6 L566.9,1035.9 L567.6,1035.2 L568.4,1034.6 L569.3,1033.8 L570.3,1032.9 L571.4,1031.9 L572.6,1030.6 L574.0,1029.0 L575.5,1027.1 L577.2,1025.0 L578.9,1022.6 L580.8,1020.1 L582.7,1017.4 L584.8,1014.7 L586.9,1011.9 L589.1,1009.1 L591.4,1006.4 L593.9,1003.8 L596.4,1001.3 L599.0,999.0 L601.8,996.8 L604.7,994.6 L607.7,992.5 L610.9,990.4 L614.2,988.4 L617.6,986.4 L621.0,984.5 L624.4,982.7 L627.9,980.9 L631.3,979.2 L634.7,977.5 L638.0,976.0 L641.3,974.5 L644.8,973.2 L648.3,971.8 L651.8,970.6 L655.3,969.4 L658.8,968.3 L662.3,967.3 L665.7,966.3 L669.0,965.4 L672.1,964.5 L675.2,963.7 L678.0,963.0 L680.6,962.3 L683.0,961.8 L685.2,961.3 L687.3,960.8 L689.3,960.5 L691.2,960.2 L693.2,959.9 L695.1,959.7 L697.1,959.5 L699.2,959.3 L701.5,959.1 L704.0,959.0 L706.6,958.9 L709.4,958.9 L712.2,959.0 L715.0,959.2 L718.0,959.4 L721.0,959.6 L724.1,959.8 L727.2,959.9 L730.3,960.0 L733.5,959.9 L736.8,959.8 L740.0,959.5 L743.3,959.1 L746.6,958.6 L750.1,958.1 L753.5,957.5 L757.0,956.8 L760.6,956.0 L764.1,955.2 L767.7,954.3 L771.3,953.3 L774.9,952.3 L778.4,951.2 L782.0,950.0 L785.6,948.7 L789.1,947.3 L792.7,945.9 L796.3,944.3 L799.9,942.7 L803.5,941.0 L807.1,939.3 L810.7,937.5 L814.3,935.6 L817.9,933.8 L821.4,931.9 L825.0,930.0 L828.5,928.1 L832.0,926.2 L835.5,924.3 L839.0,922.3 L842.5,920.3 L846.0,918.3 L849.5,916.2 L853.0,914.0 L856.5,911.8 L860.0,909.5 L863.5,907.0 L867.0,904.5 L870.6,901.8 L874.2,899.0 L877.9,896.1 L881.6,893.1 L885.3,889.9 L888.9,886.8 L892.6,883.6 L896.2,880.4 L899.8,877.2 L903.3,874.1 L906.7,871.0 L910.0,868.0 L913.3,865.0 L916.5,862.1 L919.7,859.1 L922.9,856.1 L926.0,853.1 L929.1,850.2 L932.0,847.3 L934.9,844.4 L937.6,841.7 L940.2,839.0 L942.7,836.4 L945.0,834.0 L947.2,831.6 L949.2,829.3 L951.1,826.9 L952.9,824.7 L954.6,822.5 L956.2,820.4 L957.6,818.4 L959.0,816.6 L960.2,814.9 L961.2,813.4 L962.2,812.1 L963.0,811.0" fill="none" stroke="#dc143c" stroke-width="4.2" stroke-linejoin="round" opacity="0.85"/>
<g><use href="#diaL" x="327.0" y="1150.0"/><use href="#diaS" x="328.4" y="1146.3"/><use href="#diaS" x="329.8" y="1142.5"/><use href="#diaS" x="331.3" y="1138.8"/><use href="#diaS" x="332.8" y="1135.1"/><use href="#diaS" x="334.4" y="1131.4"/><use href="#diaS" x="336.1" y="1127.8"/><use href="#diaS" x="337.9" y="1124.2"/><use href="#diaS" x="339.8" y="1120.7"/><use href="#diaS" x="341.8" y="1117.2"/><use href="#diaS" x="343.8" y="1113.8"/><use href="#diaS" x="345.8" y="1110.3"/><use href="#diaS" x="347.8" y="1106.9"/><use href="#diaS" x="349.9" y="1103.4"/><use href="#diaS" x="351.9" y="1100.0"/><use href="#diaS" x="354.0" y="1096.6"/><use href="#diaS" x="356.2" y="1093.2"/><use href="#diaS" x="358.4" y="1089.9"/><use href="#diaS" x="360.7" y="1086.6"/><use href="#diaS" x="363.0" y="1083.4"/><use href="#diaS" x="365.4" y="1080.1"/><use href="#diaS" x="367.8" y="1077.0"/><use href="#diaS" x="370.3" y="1073.8"/><use href="#diaS" x="372.8" y="1070.7"/><use href="#diaS" x="375.3" y="1067.6"/><use href="#diaS" x="377.9" y="1064.5"/><use href="#diaS" x="380.5" y="1061.5"/><use href="#diaS" x="383.1" y="1058.5"/><use href="#diaS" x="385.8" y="1055.5"/><use href="#diaS" x="388.5" y="1052.6"/><use href="#diaS" x="391.3" y="1049.7"/><use href="#diaS" x="394.1" y="1046.9"/><use href="#diaS" x="397.0" y="1044.1"/><use href="#diaS" x="400.0" y="1041.4"/><use href="#diaS" x="403.0" y="1038.8"/><use href="#diaS" x="406.0" y="1036.2"/><use href="#diaS" x="409.1" y="1033.6"/><use href="#diaS" x="412.2" y="1031.1"/><use href="#diaS" x="415.4" y="1028.7"/><use href="#diaS" x="418.6" y="1026.3"/><use href="#diaS" x="421.8" y="1023.9"/><use href="#diaS" x="425.0" y="1021.5"/><use href="#diaS" x="428.2" y="1019.2"/><use href="#diaS" x="431.6" y="1016.9"/><use href="#diaS" x="434.9" y="1014.8"/><use href="#diaS" x="438.4" y="1012.8"/><use href="#diaS" x="442.0" y="1011.0"/><use href="#diaS" x="445.6" y="1009.3"/><use href="#diaS" x="449.3" y="1007.8"/><use href="#diaS" x="453.0" y="1006.4"/><use href="#diaS" x="456.8" y="1005.0"/><use href="#diaS" x="460.6" y="1003.8"/><use href="#diaS" x="464.4" y="1002.6"/><use href="#diaS" x="468.3" y="1001.5"/><use href="#diaS" x="472.1" y="1000.4"/><use href="#diaS" x="476.0" y="999.3"/><use href="#diaS" x="479.9" y="998.3"/><use href="#diaS" x="483.7" y="997.3"/><use href="#diaS" x="487.6" y="996.4"/><use href="#diaS" x="491.5" y="995.6"/><use href="#diaS" x="495.5" y="994.9"/><use href="#diaS" x="499.4" y="994.4"/><use href="#diaS" x="503.4" y="994.1"/><use href="#diaS" x="507.4" y="994.0"/><use href="#diaS" x="511.4" y="994.1"/><use href="#diaS" x="515.4" y="994.4"/><use href="#diaS" x="519.4" y="994.9"/><use href="#diaS" x="523.3" y="995.4"/><use href="#diaS" x="527.3" y="996.1"/><use href="#diaS" x="531.2" y="996.9"/><use href="#diaS" x="535.1" y="997.8"/><use href="#diaS" x="539.0" y="998.7"/><use href="#diaS" x="542.9" y="999.8"/><use href="#diaS" x="546.7" y="1000.9"/><use href="#diaS" x="550.5" y="1002.2"/><use href="#diaS" x="554.2" y="1003.7"/><use href="#diaS" x="557.9" y="1005.2"/><use href="#diaS" x="561.5" y="1006.9"/><use href="#diaS" x="565.1" y="1008.6"/><use href="#diaS" x="568.7" y="1010.4"/><use href="#diaS" x="572.3" y="1012.2"/><use href="#diaS" x="575.9" y="1014.0"/><use href="#diaS" x="579.4" y="1015.9"/><use href="#diaS" x="582.9" y="1017.9"/><use href="#diaS" x="586.3" y="1019.9"/><use href="#diaS" x="589.7" y="1022.0"/><use href="#diaS" x="593.0" y="1024.2"/><use href="#diaS" x="596.3" y="1026.5"/><use href="#diaS" x="599.5" y="1028.9"/><use href="#diaS" x="602.7" y="1031.3"/><use href="#diaS" x="605.8" y="1033.9"/><use href="#diaS" x="608.9" y="1036.4"/><use href="#diaS" x="611.9" y="1039.0"/><use href="#diaS" x="614.9" y="1041.7"/><use href="#diaS" x="617.9" y="1044.4"/><use href="#diaS" x="620.8" y="1047.1"/><use href="#diaS" x="623.7" y="1049.8"/><use href="#diaS" x="626.6" y="1052.6"/><use href="#diaS" x="629.4" y="1055.4"/><use href="#diaS" x="632.1" y="1058.4"/><use href="#diaS" x="634.8" y="1061.4"/><use href="#diaS" x="637.3" y="1064.5"/><use href="#diaS" x="639.7" y="1067.7"/><use href="#diaS" x="642.1" y="1070.9"/><use href="#diaS" x="644.2" y="1074.3"/><use href="#diaS" x="646.1" y="1077.8"/><use href="#diaS" x="648.1" y="1081.2"/><use href="#diaS" x="650.0" y="1084.8"/><use href="#diaL" x="652.9" y="1087.3"/><use href="#diaL" x="656.8" y="1087.9"/><use href="#diaL" x="660.1" y="1085.9"/><use href="#diaL" x="662.2" y="1082.5"/><use href="#diaL" x="663.9" y="1078.8"/><use href="#diaL" x="665.3" y="1075.1"/><use href="#diaL" x="666.7" y="1071.4"/><use href="#diaL" x="668.1" y="1067.6"/><use href="#diaL" x="669.4" y="1063.8"/><use href="#diaL" x="670.6" y="1060.0"/><use href="#diaL" x="671.7" y="1056.2"/><use href="#diaL" x="672.9" y="1052.4"/><use href="#diaL" x="674.1" y="1048.5"/><use href="#diaL" x="675.4" y="1044.7"/><use href="#diaL" x="676.8" y="1041.0"/><use href="#diaL" x="678.2" y="1037.3"/><use href="#diaL" x="679.8" y="1033.6"/><use href="#diaL" x="681.3" y="1029.9"/><use href="#diaL" x="682.9" y="1026.2"/><use href="#diaL" x="684.5" y="1022.6"/><use href="#diaL" x="686.2" y="1018.9"/><use href="#diaL" x="687.9" y="1015.3"/><use href="#diaL" x="689.6" y="1011.7"/><use href="#diaL" x="691.3" y="1008.1"/><use href="#diaL" x="693.1" y="1004.5"/><use href="#diaL" x="694.9" y="1000.9"/><use href="#diaL" x="696.7" y="997.4"/><use href="#diaL" x="698.6" y="993.8"/><use href="#diaL" x="700.4" y="990.3"/><use href="#diaL" x="704.8" y="981.3"/><use href="#diaL" x="709.1" y="972.2"/><use href="#diaL" x="713.3" y="963.2"/><use href="#diaL" x="717.9" y="954.3"/><use href="#diaL" x="722.6" y="945.5"/><use href="#diaL" x="727.5" y="936.8"/><use href="#diaL" x="732.6" y="928.2"/><use href="#diaL" x="738.2" y="919.9"/><use href="#diaL" x="744.8" y="912.4"/><use href="#diaL" x="751.8" y="905.2"/><use href="#diaL" x="758.8" y="898.1"/><use href="#diaL" x="765.9" y="891.0"/><use href="#diaL" x="778.0" y="879.0"/><use href="#diaL" x="795.0" y="866.0"/><use href="#diaL" x="812.0" y="850.0"/><use href="#diaL" x="831.0" y="834.0"/><use href="#diaL" x="848.0" y="821.0"/><use href="#diaL" x="869.0" y="810.0"/><use href="#diaL" x="888.0" y="798.5"/><use href="#diaL" x="909.0" y="787.0"/><use href="#diaL" x="930.0" y="777.0"/><use href="#diaL" x="951.0" y="768.0"/><use href="#diaL" x="971.5" y="758.6"/><use href="#diaL" x="994.0" y="747.0"/><use href="#diaL" x="1013.0" y="738.7"/><use href="#diaL" x="1034.0" y="728.3"/><use href="#diaL" x="1055.0" y="717.8"/><use href="#diaL" x="1074.9" y="706.0"/><use href="#diaL" x="1096.6" y="695.1"/><use href="#diaL" x="1119.4" y="679.9"/><use href="#diaL" x="1141.1" y="664.8"/><use href="#diaL" x="1162.8" y="649.6"/><use href="#diaL" x="1183.4" y="631.1"/><use href="#diaL" x="1206.1" y="612.7"/><use href="#diaL" x="1230.0" y="593.2"/><use href="#diaL" x="1255.0" y="571.5"/><use href="#diaL" x="1282.1" y="547.6"/><use href="#diaL" x="1309.2" y="520.5"/><use href="#diaL" x="1338.4" y="493.4"/><use href="#diaL" x="1368.8" y="463.1"/><use href="#diaL" x="1399.3" y="431.6"/><use href="#diaL" x="1430.5" y="399.5"/><use href="#diaL" x="1468.9" y="364.7"/><use href="#diaL" x="1505.4" y="328.1"/><use href="#diaL" x="1540.2" y="293.4"/><use href="#diaL" x="1584.0" y="252.5"/><use href="#diaL" x="1628.0" y="213.5"/><path d="M780.0,884.0 L781.3,883.0 L783.1,881.7 L785.1,880.2 L787.4,878.5 L789.9,876.7 L792.4,874.8 L794.8,872.9 L797.0,871.0 L799.1,869.1 L801.2,867.2 L803.3,865.2 L805.4,863.2 L807.5,861.1 L809.6,859.1 L811.8,857.0 L814.0,855.0 L816.3,853.0 L818.7,850.9 L821.1,848.9 L823.5,846.8 L825.9,844.8 L828.3,842.8 L830.7,840.9 L833.0,839.0 L835.2,837.2 L837.3,835.5 L839.3,833.8 L841.4,832.2 L843.4,830.6 L845.5,829.0 L847.7,827.5 L850.0,826.0 L852.4,824.5 L855.0,823.1 L857.7,821.8 L860.4,820.4 L863.1,819.1 L865.8,817.7 L868.4,816.4 L871.0,815.0 L873.5,813.6 L875.8,812.2 L878.2,810.7 L880.5,809.3 L882.8,807.8 L885.2,806.4 L887.5,804.9 L890.0,803.5 L892.5,802.1 L895.1,800.6 L897.7,799.1 L900.4,797.7 L903.0,796.2 L905.7,794.8 L908.4,793.4 L911.0,792.0 L913.6,790.7 L916.2,789.4 L918.9,788.1 L921.5,786.8 L924.1,785.6 L926.8,784.4 L929.4,783.2 L932.0,782.0 L934.6,780.8 L937.3,779.7 L939.9,778.6 L942.5,777.5 L945.2,776.4 L947.8,775.3 L950.4,774.1 L953.0,773.0 L955.6,771.9 L958.1,770.7 L960.6,769.6 L963.2,768.5 L965.7,767.3 L968.2,766.1 L970.8,764.9 L973.5,763.6 L976.2,762.2 L979.1,760.8 L981.9,759.3 L984.8,757.7 L987.7,756.2 L990.6,754.7 L993.3,753.3 L996.0,752.0 L998.5,750.8 L1000.9,749.7 L1003.3,748.7 L1005.6,747.8 L1007.9,746.8 L1010.2,745.8 L1012.6,744.8 L1015.0,743.7 L1017.5,742.5 L1020.1,741.3 L1022.7,740.0 L1025.4,738.6 L1028.0,737.3 L1030.7,736.0 L1033.4,734.6 L1036.0,733.3 L1038.6,732.0 L1041.3,730.7 L1043.9,729.4 L1046.6,728.1 L1049.2,726.8 L1051.8,725.5 L1054.4,724.2 L1057.0,722.8 L1059.5,721.4 L1062.0,719.9 L1064.5,718.4 L1066.9,716.9 L1069.4,715.4 L1071.8,713.9 L1074.3,712.4 L1076.9,711.0 L1079.5,709.6 L1082.2,708.3 L1084.9,707.0 L1087.6,705.8 L1090.3,704.5 L1093.1,703.1 L1095.8,701.7 L1098.6,700.1 L1101.4,698.4 L1104.2,696.6 L1107.1,694.7 L1110.0,692.8 L1112.9,690.8 L1115.8,688.8 L1118.6,686.8 L1121.4,684.9 L1124.2,683.0 L1126.9,681.1 L1129.6,679.2 L1132.3,677.3 L1135.0,675.5 L1137.7,673.6 L1140.4,671.7 L1143.1,669.8 L1145.8,667.9 L1148.6,666.1 L1151.3,664.3 L1154.0,662.4 L1156.7,660.5 L1159.5,658.6 L1162.1,656.7 L1164.8,654.6 L1167.4,652.4 L1170.0,650.2 L1172.5,647.9 L1175.0,645.6 L1177.6,643.2 L1180.1,640.8 L1182.7,638.4 L1185.4,636.1 L1188.1,633.8 L1190.9,631.5 L1193.7,629.2 L1196.5,627.0 L1199.4,624.7 L1202.3,622.4 L1205.2,620.1 L1208.1,617.7 L1211.0,615.3 L1214.0,613.0 L1216.9,610.6 L1219.9,608.2 L1222.9,605.7 L1225.9,603.3 L1229.0,600.8 L1232.0,598.2 L1235.1,595.6 L1238.1,593.0 L1241.2,590.3 L1244.3,587.6 L1247.4,584.9 L1250.6,582.1 L1253.8,579.3 L1257.0,576.5 L1260.5,573.5 L1264.3,570.1 L1268.2,566.6 L1272.1,563.2 L1275.8,559.9 L1279.2,556.9 L1282.0,554.5 L1284.1,552.6" fill="none" stroke="#00f800" stroke-width="15.0" stroke-linejoin="round" stroke-linecap="round"/><use href="#diaR" x="327.0" y="1150.0"/><use href="#diaR" x="328.4" y="1146.3"/><use href="#diaR" x="329.8" y="1142.5"/><use href="#diaR" x="331.3" y="1138.8"/><use href="#diaR" x="332.8" y="1135.1"/><use href="#diaR" x="334.4" y="1131.4"/><use href="#diaR" x="336.1" y="1127.8"/><use href="#diaR" x="337.9" y="1124.2"/><use href="#diaR" x="339.8" y="1120.7"/><use href="#diaR" x="341.8" y="1117.2"/><use href="#diaR" x="343.8" y="1113.8"/><use href="#diaR" x="345.8" y="1110.3"/><use href="#diaR" x="347.8" y="1106.9"/><use href="#diaR" x="349.9" y="1103.4"/><use href="#diaR" x="351.9" y="1100.0"/><use href="#diaR" x="354.0" y="1096.6"/><use href="#diaR" x="356.2" y="1093.2"/><use href="#diaR" x="358.4" y="1089.9"/><use href="#diaR" x="360.7" y="1086.6"/><use href="#diaR" x="363.0" y="1083.4"/><use href="#diaR" x="365.4" y="1080.1"/><use href="#diaR" x="367.8" y="1077.0"/><use href="#diaR" x="370.3" y="1073.8"/><use href="#diaR" x="372.8" y="1070.7"/><use href="#diaR" x="375.3" y="1067.6"/><use href="#diaR" x="377.9" y="1064.5"/><use href="#diaR" x="380.5" y="1061.5"/><use href="#diaR" x="383.1" y="1058.5"/><use href="#diaR" x="385.8" y="1055.5"/><use href="#diaR" x="388.5" y="1052.6"/><use href="#diaR" x="391.3" y="1049.7"/><use href="#diaR" x="394.1" y="1046.9"/><use href="#diaR" x="397.0" y="1044.1"/><use href="#diaR" x="400.0" y="1041.4"/><use href="#diaR" x="403.0" y="1038.8"/><use href="#diaR" x="406.0" y="1036.2"/><use href="#diaR" x="409.1" y="1033.6"/><use href="#diaR" x="412.2" y="1031.1"/><use href="#diaR" x="415.4" y="1028.7"/><use href="#diaR" x="418.6" y="1026.3"/><use href="#diaR" x="421.8" y="1023.9"/><use href="#diaR" x="425.0" y="1021.5"/><use href="#diaR" x="428.2" y="1019.2"/><use href="#diaR" x="431.6" y="1016.9"/><use href="#diaR" x="434.9" y="1014.8"/><use href="#diaR" x="438.4" y="1012.8"/><use href="#diaR" x="442.0" y="1011.0"/><use href="#diaR" x="445.6" y="1009.3"/><use href="#diaR" x="449.3" y="1007.8"/><use href="#diaR" x="453.0" y="1006.4"/><use href="#diaR" x="456.8" y="1005.0"/><use href="#diaR" x="460.6" y="1003.8"/><use href="#diaR" x="464.4" y="1002.6"/><use href="#diaR" x="468.3" y="1001.5"/><use href="#diaR" x="472.1" y="1000.4"/><use href="#diaR" x="476.0" y="999.3"/><use href="#diaR" x="479.9" y="998.3"/><use href="#diaR" x="483.7" y="997.3"/><use href="#diaR" x="487.6" y="996.4"/><use href="#diaR" x="491.5" y="995.6"/><use href="#diaR" x="495.5" y="994.9"/><use href="#diaR" x="499.4" y="994.4"/><use href="#diaR" x="503.4" y="994.1"/><use href="#diaR" x="507.4" y="994.0"/><use href="#diaR" x="511.4" y="994.1"/><use href="#diaR" x="515.4" y="994.4"/><use href="#diaR" x="519.4" y="994.9"/><use href="#diaR" x="523.3" y="995.4"/><use href="#diaR" x="527.3" y="996.1"/><use href="#diaR" x="531.2" y="996.9"/><use href="#diaR" x="535.1" y="997.8"/><use href="#diaR" x="539.0" y="998.7"/><use href="#diaR" x="542.9" y="999.8"/><use href="#diaR" x="546.7" y="1000.9"/><use href="#diaR" x="550.5" y="1002.2"/><use href="#diaR" x="554.2" y="1003.7"/><use href="#diaR" x="557.9" y="1005.2"/><use href="#diaR" x="561.5" y="1006.9"/><use href="#diaR" x="565.1" y="1008.6"/><use href="#diaR" x="568.7" y="1010.4"/><use href="#diaR" x="572.3" y="1012.2"/><use href="#diaR" x="575.9" y="1014.0"/><use href="#diaR" x="579.4" y="1015.9"/><use href="#diaR" x="582.9" y="1017.9"/><use href="#diaR" x="586.3" y="1019.9"/><use href="#diaR" x="589.7" y="1022.0"/><use href="#diaR" x="593.0" y="1024.2"/><use href="#diaR" x="596.3" y="1026.5"/><use href="#diaR" x="599.5" y="1028.9"/><use href="#diaR" x="602.7" y="1031.3"/><use href="#diaR" x="605.8" y="1033.9"/><use href="#diaR" x="608.9" y="1036.4"/><use href="#diaR" x="611.9" y="1039.0"/><use href="#diaR" x="614.9" y="1041.7"/><use href="#diaR" x="617.9" y="1044.4"/><use href="#diaR" x="620.8" y="1047.1"/><use href="#diaR" x="623.7" y="1049.8"/><use href="#diaR" x="626.6" y="1052.6"/><use href="#diaR" x="629.4" y="1055.4"/><use href="#diaR" x="632.1" y="1058.4"/><use href="#diaR" x="634.8" y="1061.4"/><use href="#diaR" x="637.3" y="1064.5"/><use href="#diaR" x="639.7" y="1067.7"/><use href="#diaR" x="642.1" y="1070.9"/><use href="#diaR" x="644.2" y="1074.3"/><use href="#diaR" x="646.1" y="1077.8"/><use href="#diaR" x="648.1" y="1081.2"/><use href="#diaR" x="650.0" y="1084.8"/><use href="#diaR" x="652.9" y="1087.3"/><use href="#diaR" x="656.8" y="1087.9"/><use href="#diaR" x="660.1" y="1085.9"/><use href="#diaR" x="662.2" y="1082.5"/><use href="#diaR" x="663.9" y="1078.8"/><use href="#diaR" x="665.3" y="1075.1"/><use href="#diaR" x="666.7" y="1071.4"/><use href="#diaR" x="668.1" y="1067.6"/><use href="#diaR" x="669.4" y="1063.8"/><use href="#diaR" x="670.6" y="1060.0"/><use href="#diaR" x="671.7" y="1056.2"/><use href="#diaR" x="672.9" y="1052.4"/><use href="#diaR" x="674.1" y="1048.5"/><use href="#diaR" x="675.4" y="1044.7"/><use href="#diaR" x="676.8" y="1041.0"/><use href="#diaR" x="678.2" y="1037.3"/><use href="#diaR" x="679.8" y="1033.6"/><use href="#diaR" x="681.3" y="1029.9"/><use href="#diaR" x="682.9" y="1026.2"/><use href="#diaR" x="684.5" y="1022.6"/><use href="#diaR" x="686.2" y="1018.9"/><use href="#diaR" x="687.9" y="1015.3"/><use href="#diaR" x="689.6" y="1011.7"/><use href="#diaR" x="691.3" y="1008.1"/><use href="#diaR" x="693.1" y="1004.5"/><use href="#diaR" x="694.9" y="1000.9"/><use href="#diaR" x="696.7" y="997.4"/><use href="#diaR" x="698.6" y="993.8"/><use href="#diaR" x="700.4" y="990.3"/><use href="#diaR" x="704.8" y="981.3"/><use href="#diaR" x="709.1" y="972.2"/><use href="#diaR" x="713.3" y="963.2"/><use href="#diaR" x="717.9" y="954.3"/><use href="#diaR" x="722.6" y="945.5"/><use href="#diaR" x="727.5" y="936.8"/><use href="#diaR" x="732.6" y="928.2"/><use href="#diaR" x="738.2" y="919.9"/><use href="#diaR" x="744.8" y="912.4"/><use href="#diaR" x="751.8" y="905.2"/><use href="#diaR" x="758.8" y="898.1"/><use href="#diaR" x="765.9" y="891.0"/><use href="#diaR" x="778.0" y="879.0"/><use href="#diaR" x="795.0" y="866.0"/><use href="#diaR" x="812.0" y="850.0"/><use href="#diaR" x="831.0" y="834.0"/><use href="#diaR" x="848.0" y="821.0"/><use href="#diaR" x="869.0" y="810.0"/><use href="#diaR" x="888.0" y="798.5"/><use href="#diaR" x="909.0" y="787.0"/><use href="#diaR" x="930.0" y="777.0"/><use href="#diaR" x="951.0" y="768.0"/><use href="#diaR" x="971.5" y="758.6"/><use href="#diaR" x="994.0" y="747.0"/><use href="#diaR" x="1013.0" y="738.7"/><use href="#diaR" x="1034.0" y="728.3"/><use href="#diaR" x="1055.0" y="717.8"/><use href="#diaR" x="1074.9" y="706.0"/><use href="#diaR" x="1096.6" y="695.1"/><use href="#diaR" x="1119.4" y="679.9"/><use href="#diaR" x="1141.1" y="664.8"/><use href="#diaR" x="1162.8" y="649.6"/><use href="#diaR" x="1183.4" y="631.1"/><use href="#diaR" x="1206.1" y="612.7"/><use href="#diaR" x="1230.0" y="593.2"/><use href="#diaR" x="1255.0" y="571.5"/><use href="#diaR" x="1282.1" y="547.6"/><use href="#diaR" x="1309.2" y="520.5"/><use href="#diaR" x="1338.4" y="493.4"/><use href="#diaR" x="1368.8" y="463.1"/><use href="#diaR" x="1399.3" y="431.6"/><use href="#diaR" x="1430.5" y="399.5"/><use href="#diaR" x="1468.9" y="364.7"/><use href="#diaR" x="1505.4" y="328.1"/><use href="#diaR" x="1540.2" y="293.4"/><use href="#diaR" x="1584.0" y="252.5"/><use href="#diaR" x="1628.0" y="213.5"/></g>
<path d="M334.0,1147.0 L334.2,1146.5 L334.3,1146.1 L334.5,1145.6 L334.7,1145.0 L335.0,1144.4 L335.2,1143.6 L335.6,1142.8 L335.9,1141.8 L336.3,1140.6 L336.8,1139.3 L337.4,1137.8 L338.0,1136.0 L338.7,1134.0 L339.4,1131.7 L340.2,1129.2 L341.1,1126.4 L342.0,1123.6 L342.9,1120.6 L344.0,1117.5 L345.0,1114.3 L346.2,1111.2 L347.4,1108.0 L348.7,1105.0 L350.0,1102.0 L351.4,1099.1 L352.9,1096.1 L354.4,1093.1 L356.0,1090.0 L357.7,1087.0 L359.4,1083.9 L361.2,1080.9 L363.0,1077.9 L364.9,1074.8 L366.9,1071.8 L368.9,1068.9 L371.0,1066.0 L373.2,1063.1 L375.5,1060.2 L377.9,1057.3 L380.4,1054.3 L383.0,1051.4 L385.6,1048.6 L388.3,1045.7 L390.9,1043.0 L393.5,1040.3 L396.1,1037.8 L398.6,1035.3 L401.0,1033.0 L403.4,1030.8 L405.8,1028.7 L408.3,1026.6 L410.7,1024.6 L413.1,1022.7 L415.5,1020.9 L417.8,1019.2 L420.1,1017.6 L422.2,1016.1 L424.3,1014.6 L426.2,1013.3 L428.0,1012.0 L429.6,1010.9 L430.9,1009.9 L432.1,1009.1 L433.1,1008.4 L434.0,1007.8 L434.9,1007.3 L435.8,1006.8 L436.7,1006.3 L437.8,1005.8 L438.9,1005.3 L440.3,1004.7 L442.0,1004.0 L443.9,1003.2 L445.8,1002.4 L447.9,1001.4 L450.1,1000.5 L452.4,999.5 L454.8,998.6 L457.2,997.7 L459.8,996.8 L462.5,995.9 L465.2,995.2 L468.1,994.5 L471.0,994.0 L474.1,993.6 L477.4,993.2 L480.9,992.9 L484.6,992.6 L488.3,992.4 L492.1,992.3 L495.9,992.2 L499.6,992.2 L503.2,992.2 L506.7,992.2 L510.0,992.4 L513.0,992.5 L515.8,992.7 L518.4,993.0 L520.8,993.3 L523.1,993.6 L525.3,994.1 L527.4,994.5 L529.4,995.0 L531.5,995.6 L533.5,996.1 L535.6,996.7 L537.8,997.4 L540.0,998.0 L542.3,998.7 L544.6,999.3 L546.9,1000.0 L549.2,1000.7 L551.5,1001.5 L553.9,1002.3 L556.2,1003.1 L558.6,1004.0 L560.9,1004.9 L563.3,1005.9 L565.6,1006.9 L568.0,1008.0 L570.4,1009.1 L572.8,1010.3 L575.2,1011.5 L577.6,1012.8 L580.1,1014.1 L582.5,1015.5 L584.9,1016.9 L587.4,1018.4 L589.8,1020.0 L592.2,1021.6 L594.6,1023.2 L597.0,1025.0 L599.4,1026.9 L601.8,1028.8 L604.2,1030.9 L606.6,1033.1 L609.0,1035.3 L611.4,1037.6 L613.8,1039.9 L616.1,1042.2 L618.4,1044.5 L620.7,1046.7 L622.9,1048.9 L625.0,1051.0 L627.1,1053.1 L629.2,1055.2 L631.2,1057.3 L633.2,1059.4 L635.2,1061.5 L637.1,1063.5 L639.0,1065.5 L640.8,1067.4 L642.5,1069.3 L644.1,1071.0 L645.6,1072.6 L647.0,1074.0 L648.3,1075.3 L649.4,1076.5 L650.4,1077.6 L651.3,1078.6 L652.2,1079.6 L652.9,1080.4 L653.7,1081.1 L654.3,1081.8 L655.0,1082.4 L655.6,1082.8 L656.3,1083.2 L657.0,1083.5 L657.7,1083.7 L658.3,1083.9 L659.0,1084.0 L659.6,1084.1 L660.1,1084.0 L660.7,1083.8 L661.2,1083.6 L661.8,1083.2 L662.3,1082.6 L662.9,1081.9 L663.4,1081.1 L664.0,1080.0 L664.6,1078.8 L665.1,1077.3 L665.7,1075.7 L666.2,1073.9 L666.7,1072.0 L667.2,1070.0 L667.8,1067.8 L668.4,1065.6 L669.0,1063.3 L669.6,1060.9 L670.3,1058.5 L671.0,1056.0 L671.8,1053.5 L672.6,1050.8 L673.4,1048.0 L674.2,1045.2 L675.1,1042.2 L676.0,1039.2 L677.0,1036.2 L677.9,1033.1 L678.9,1030.0 L679.9,1027.0 L680.9,1024.0 L682.0,1021.0 L683.1,1018.0 L684.2,1015.1 L685.4,1012.1 L686.6,1009.1 L687.8,1006.0 L689.0,1003.0 L690.3,1000.0 L691.5,997.1 L692.8,994.1 L694.0,991.2 L695.3,988.3 L696.5,985.5 L697.7,982.7 L698.8,980.0 L700.0,977.4 L701.1,974.8 L702.2,972.2 L703.3,969.6 L704.5,967.0 L705.7,964.5 L706.9,961.9 L708.2,959.3 L709.6,956.7 L711.0,954.0 L712.5,951.2 L714.2,948.4 L716.0,945.4 L717.8,942.4 L719.6,939.4 L721.5,936.4 L723.4,933.5 L725.3,930.6 L727.1,927.9 L728.8,925.4 L730.5,923.1 L732.0,921.0 L733.4,919.2 L734.5,917.8 L735.6,916.6 L736.5,915.7 L737.4,914.9 L738.3,914.1 L739.2,913.3 L740.3,912.5 L741.4,911.5 L742.7,910.3 L744.2,908.8 L746.0,907.0 L748.0,904.8 L750.2,902.4 L752.6,899.8 L755.1,896.9 L757.8,894.0 L760.5,890.9 L763.3,887.8 L766.2,884.6 L769.2,881.4 L772.1,878.4 L775.1,875.4 L778.0,872.5 L781.0,869.7 L784.0,866.9 L787.1,864.2 L790.2,861.4 L793.4,858.6 L796.6,855.9 L799.9,853.2 L803.1,850.5 L806.4,847.9 L809.6,845.3 L812.8,842.8 L816.0,840.3 L819.2,837.9 L822.3,835.5 L825.5,833.1 L828.7,830.8 L831.8,828.5 L835.0,826.3 L838.2,824.1 L841.3,821.9 L844.5,819.8 L847.7,817.7 L850.8,815.7 L854.0,813.7 L857.2,811.8 L860.3,809.9 L863.5,808.0 L866.7,806.2 L869.8,804.5 L873.0,802.8 L876.2,801.1 L879.3,799.4 L882.5,797.8 L885.7,796.1 L888.8,794.5 L892.0,792.8 L895.2,791.2 L898.3,789.5 L901.5,787.9 L904.7,786.4 L907.8,784.8 L911.0,783.2 L914.2,781.7 L917.3,780.1 L920.5,778.6 L923.7,777.0 L926.8,775.5 L930.0,773.9 L933.1,772.4 L936.0,770.9 L938.9,769.5 L941.7,768.2 L944.5,766.8 L947.4,765.4 L950.3,764.0 L953.4,762.4 L956.7,760.8 L960.2,759.0 L963.9,757.1 L968.0,755.0 L972.4,752.7 L976.9,750.3 L981.7,747.7 L986.7,745.0 L991.8,742.2 L997.1,739.3 L1002.6,736.3 L1008.2,733.3 L1013.9,730.2 L1019.7,727.0 L1025.7,723.8 L1031.7,720.6 L1037.9,717.3 L1044.5,714.0 L1051.2,710.5 L1058.2,707.1 L1065.3,703.5 L1072.5,699.9 L1079.6,696.2 L1086.7,692.5 L1093.7,688.8 L1100.5,685.0 L1107.1,681.2 L1113.4,677.4 L1119.4,673.5 L1125.2,669.6 L1130.7,665.7 L1136.2,661.7 L1141.5,657.7 L1146.7,653.7 L1151.9,649.6 L1157.1,645.5 L1162.3,641.3 L1167.7,637.1 L1173.1,632.9 L1178.7,628.6 L1184.5,624.2 L1190.6,619.7 L1196.9,615.0 L1203.2,610.3 L1209.6,605.6 L1216.0,600.8 L1222.3,596.1 L1228.4,591.5 L1234.3,587.0 L1239.9,582.7 L1245.2,578.6 L1250.0,574.7 L1254.3,571.2 L1258.0,568.0 L1261.3,565.1 L1264.3,562.4 L1267.1,559.8 L1269.7,557.3 L1272.3,554.8 L1275.0,552.2 L1277.9,549.4 L1281.0,546.4 L1284.6,543.2 L1288.6,539.5 L1293.1,535.5 L1298.0,531.1 L1303.2,526.6 L1308.7,521.8 L1314.3,516.8 L1320.1,511.8 L1325.9,506.7 L1331.7,501.6 L1337.5,496.5 L1343.1,491.5 L1348.5,486.7 L1353.6,482.0 L1358.5,477.5 L1363.3,473.0 L1368.0,468.7 L1372.6,464.4 L1377.1,460.1 L1381.6,455.8 L1386.0,451.6 L1390.4,447.4 L1394.8,443.1 L1399.2,438.8 L1403.6,434.4 L1408.0,430.0 L1412.3,425.6 L1416.5,421.3 L1420.5,417.1 L1424.5,412.9 L1428.4,408.6 L1432.4,404.3 L1436.5,399.9 L1440.7,395.4 L1445.1,390.6 L1449.7,385.7 L1454.7,380.5 L1460.0,375.0 L1465.8,369.1 L1472.1,362.7 L1478.9,355.9 L1485.9,348.8 L1493.1,341.6 L1500.4,334.2 L1507.7,326.9 L1514.9,319.7 L1521.8,312.7 L1528.4,306.0 L1534.5,299.8 L1540.0,294.0 L1545.0,288.7 L1549.6,283.6 L1553.9,278.9 L1558.0,274.4 L1561.7,270.0 L1565.3,265.9 L1568.7,261.9 L1572.0,258.1 L1575.3,254.3 L1578.5,250.7 L1581.7,247.0 L1585.0,243.4 L1588.4,239.8 L1591.8,236.1 L1595.3,232.4 L1598.7,228.9 L1602.1,225.4 L1605.3,222.0 L1608.4,218.9 L1611.3,215.9 L1613.9,213.2 L1616.3,210.8 L1618.3,208.7 L1620.0,207.0" fill="none" stroke="#b41a10" stroke-width="3.8" stroke-linejoin="round" opacity="0.85"/>
</g>
<g stroke="#000" stroke-linecap="butt" fill="none">
<line x1="224.5" y1="15" x2="224.5" y2="1285" stroke-width="5"/>
<line x1="211" y1="1273.3" x2="1783.5" y2="1273.3" stroke-width="4"/>
<line x1="200.5" y1="1148.0" x2="224.5" y2="1148.0" stroke-width="4.5"/>
<line x1="211" y1="1022.4" x2="224.5" y2="1022.4" stroke-width="4.5"/>
<line x1="200.5" y1="896.8" x2="224.5" y2="896.8" stroke-width="4.5"/>
<line x1="211" y1="771.1" x2="224.5" y2="771.1" stroke-width="4.5"/>
<line x1="200.5" y1="645.5" x2="224.5" y2="645.5" stroke-width="4.5"/>
<line x1="211" y1="519.9" x2="224.5" y2="519.9" stroke-width="4.5"/>
<line x1="200.5" y1="394.2" x2="224.5" y2="394.2" stroke-width="4.5"/>
<line x1="211" y1="268.6" x2="224.5" y2="268.6" stroke-width="4.5"/>
<line x1="200.5" y1="143.0" x2="224.5" y2="143.0" stroke-width="4.5"/>
<line x1="211" y1="17.4" x2="224.5" y2="17.4" stroke-width="4.5"/>
<line x1="211" y1="17.3" x2="224.5" y2="17.3" stroke-width="4.6"/>
<line x1="317.0" y1="1273.3" x2="317.0" y2="1298" stroke-width="4"/>
<line x1="408.5" y1="1273.3" x2="408.5" y2="1286" stroke-width="4"/>
<line x1="500.0" y1="1273.3" x2="500.0" y2="1298" stroke-width="4"/>
<line x1="591.5" y1="1273.3" x2="591.5" y2="1286" stroke-width="4"/>
<line x1="683.0" y1="1273.3" x2="683.0" y2="1298" stroke-width="4"/>
<line x1="774.5" y1="1273.3" x2="774.5" y2="1286" stroke-width="4"/>
<line x1="866.0" y1="1273.3" x2="866.0" y2="1298" stroke-width="4"/>
<line x1="957.5" y1="1273.3" x2="957.5" y2="1286" stroke-width="4"/>
<line x1="1049.0" y1="1273.3" x2="1049.0" y2="1298" stroke-width="4"/>
<line x1="1140.5" y1="1273.3" x2="1140.5" y2="1286" stroke-width="4"/>
<line x1="1232.0" y1="1273.3" x2="1232.0" y2="1298" stroke-width="4"/>
<line x1="1323.5" y1="1273.3" x2="1323.5" y2="1286" stroke-width="4"/>
<line x1="1415.0" y1="1273.3" x2="1415.0" y2="1298" stroke-width="4"/>
<line x1="1506.5" y1="1273.3" x2="1506.5" y2="1286" stroke-width="4"/>
<line x1="1598.0" y1="1273.3" x2="1598.0" y2="1298" stroke-width="4"/>
<line x1="1689.5" y1="1273.3" x2="1689.5" y2="1286" stroke-width="4"/>
<line x1="1781.0" y1="1273.3" x2="1781.0" y2="1298" stroke-width="4"/>
</g>
<g font-family="'Liberation Sans', Arial, sans-serif" font-size="52" fill="#000">
<text x="183" y="1164.5" text-anchor="end">0</text>
<text x="183" y="913.2" text-anchor="end">50</text>
<text x="183" y="662.0" text-anchor="end">100</text>
<text x="183" y="410.8" text-anchor="end">150</text>
<text x="183" y="159.5" text-anchor="end">200</text>
<text x="317.0" y="1355" text-anchor="middle">0</text>
<text x="500.0" y="1355" text-anchor="middle">50</text>
<text x="683.0" y="1355" text-anchor="middle">100</text>
<text x="866.0" y="1355" text-anchor="middle">150</text>
<text x="1049.0" y="1355" text-anchor="middle">200</text>
<text x="1232.0" y="1355" text-anchor="middle">250</text>
<text x="1415.0" y="1355" text-anchor="middle">300</text>
<text x="1598.0" y="1355" text-anchor="middle">350</text>
<text x="1781.0" y="1355" text-anchor="middle">400</text>
</g>
<text x="1034.5" y="1456.5" text-anchor="middle" font-family="'Liberation Sans', Arial, sans-serif" font-size="64" textLength="249.5" lengthAdjust="spacingAndGlyphs">Z' / Ohm</text>
<text transform="translate(66.4,616) rotate(-90)" x="0" y="0" text-anchor="middle" font-family="'Liberation Sans', Arial, sans-serif" font-size="64" textLength="282" lengthAdjust="spacingAndGlyphs">-Z'' / Ohm</text>
<text font-family="'Liberation Sans', Arial, sans-serif" fill="#000" font-size="59" y="129"><tspan x="430.2">R</tspan><tspan x="475.0" y="134" font-size="41">E</tspan><tspan x="520.8" y="129" textLength="175.0" lengthAdjust="spacingAndGlyphs">(Ohm)</tspan></text>
<text font-family="'Liberation Sans', Arial, sans-serif" fill="#000" font-size="59" y="129"><tspan x="765.2">R</tspan><tspan x="808.5" y="134" font-size="41">SEI</tspan><tspan x="886.6" y="129" textLength="176.0" lengthAdjust="spacingAndGlyphs">(Ohm)</tspan></text>
<text font-family="'Liberation Sans', Arial, sans-serif" fill="#000" font-size="59" y="129"><tspan x="1130.4">R</tspan><tspan x="1173.5" y="134" font-size="41">CT</tspan><tspan x="1242.0" y="129" textLength="178.0" lengthAdjust="spacingAndGlyphs">(Ohm)</tspan></text>
<line x1="263" y1="171.3" x2="410" y2="171.3" stroke="#555555" stroke-width="2.2"/>
<use href="#sq" x="336.5" y="173"/>
<line x1="263" y1="242.0" x2="410" y2="242.0" stroke="#4a6d85" stroke-width="2.2"/>
<use href="#tri" x="336.5" y="238.5"/>
<line x1="263" y1="310.8" x2="410" y2="310.8" stroke="#22aa55" stroke-width="2.2"/>
<use href="#dia" x="336.5" y="311.2"/>
<g font-family="'Liberation Sans', Arial, sans-serif" fill="#000" font-size="60.5">
<text x="515.4" y="197.3">5</text>
<text x="515.4" y="267.2">4</text>
<text x="515.4" y="335.6">5</text>
<text x="873.0" y="197.3">48</text>
<text x="873.0" y="267.2">56</text>
<text x="873.0" y="335.6">91</text>
<text x="1231.5" y="197.3">27</text>
<text x="1231.5" y="267.2">54</text>
<text x="1231.5" y="335.6">82</text>
</g>
<line x1="263" y1="449.6" x2="410" y2="449.6" stroke="#555555" stroke-width="2.2"/>
<use href="#sq" x="336.8" y="449.3"/>
<line x1="263" y1="531.2" x2="410" y2="531.2" stroke="#8db6cf" stroke-width="2.2"/>
<use href="#tri" x="337.5" y="524.5"/>
<line x1="263" y1="610.3" x2="410" y2="610.3" stroke="#22aa55" stroke-width="2.2"/>
<use href="#dia" x="337.5" y="611.5"/>
<line x1="263" y1="690.9" x2="412.7" y2="690.9" stroke="#a52626" stroke-width="5.6"/>
<g font-family="'Liberation Sans', Arial, sans-serif" fill="#000" font-size="66">
<text x="427.2" y="472.3" textLength="321" lengthAdjust="spacingAndGlyphs">LNMO-800</text>
<text x="427.2" y="551.4" textLength="511" lengthAdjust="spacingAndGlyphs">LNMO-LNbO-800</text>
<text x="427.2" y="630.7" textLength="548" lengthAdjust="spacingAndGlyphs">LNMO-nLNbO-800</text>
<text x="428.5" y="712.1" textLength="367.5" lengthAdjust="spacingAndGlyphs">fitting curves</text>
</g>
<g>
<rect x="711" y="1024" width="1082.5" height="199" fill="#fff" stroke="#000" stroke-width="2.2"/>
<g stroke="#000" stroke-width="4.3" fill="none" stroke-linejoin="miter" stroke-linecap="butt"><path d="M711,1105.5 H821 M939,1105.5 H1086 M1203,1105.5 H1350 M1467,1105.5 H1593"/><path d="M820.5,1105.5 L837.2,1119.8 L866.2,1091.2 L896.7,1119.8 L925.7,1091.2 L939.4,1105.5 M1085.8,1105.5 L1102.5,1119.8 L1131.5,1091.2 L1162.0,1119.8 L1191.0,1091.2 L1204.7,1105.5 M1349.8,1105.5 L1366.5,1119.8 L1395.5,1091.2 L1426.0,1119.8 L1455.0,1091.2 L1468.7,1105.5" stroke-width="3.8"/><path d="M1639.5,1105.5 H1793"/><path d="M1590.3,1090.8 L1605.9,1119.9 L1616.1,1102.3 L1624.2,1119.9 L1639.1,1090.8" stroke-width="4.2"/><path d="M1041.6,1105.5 V1191.5 H1131.5"/><path d="M1113.2,1176.2 L1131.5,1191.5 L1113.2,1206.7"/><path d="M1143.7,1176.2 L1160.5,1191.5 L1143.7,1206.7"/><path d="M1160.5,1191.5 H1247.6 V1105.5"/><path d="M1305.6,1105.5 V1191.5 H1395.5"/><path d="M1378.8,1176.2 L1395.5,1192 L1378.8,1206.7"/><path d="M1409.3,1176.2 L1426,1192 L1409.3,1206.7"/><path d="M1426,1191.5 H1717.3 V1105.5"/></g>
<circle cx="1041.6" cy="1105.5" r="14.5" fill="#000"/>
<circle cx="1305.6" cy="1105.5" r="14.5" fill="#000"/>
<text font-family="'DejaVu Sans', Verdana, sans-serif" fill="#000" stroke="#000" stroke-width="0.85" font-size="30" x="859.5" y="1079.5">R<tspan font-size="21.5" dy="1.2">E</tspan></text>
<text font-family="'DejaVu Sans', Verdana, sans-serif" fill="#000" stroke="#000" stroke-width="0.85" font-size="30" x="1118.5" y="1079.5">R<tspan font-size="21.5" dy="1.2" textLength="31" lengthAdjust="spacingAndGlyphs">SEI</tspan></text>
<text font-family="'DejaVu Sans', Verdana, sans-serif" fill="#000" stroke="#000" stroke-width="0.85" font-size="30" x="1385.5" y="1079.5">R<tspan font-size="21.5" dy="1.2">CT</tspan></text>
<text font-family="'DejaVu Sans', Verdana, sans-serif" fill="#000" stroke="#000" stroke-width="0.85" font-size="30" x="1592" y="1080" textLength="49" lengthAdjust="spacingAndGlyphs">Zw</text>
<text font-family="'DejaVu Sans', Verdana, sans-serif" fill="#000" stroke="#000" stroke-width="0.85" font-size="23" x="1637" y="1124.5">s</text>
<text font-family="'DejaVu Sans', Verdana, sans-serif" fill="#000" stroke="#000" stroke-width="0.85" font-size="31" x="1107" y="1164.8" textLength="79" lengthAdjust="spacing">CPE1</text>
<text font-family="'DejaVu Sans', Verdana, sans-serif" fill="#000" stroke="#000" stroke-width="0.85" font-size="31" x="1372" y="1164" textLength="80" lengthAdjust="spacing">CPE2</text>
</g>
</svg></body></html>
